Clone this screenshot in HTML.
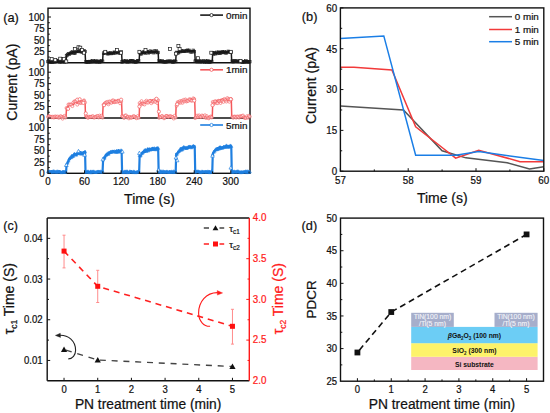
<!DOCTYPE html>
<html><head><meta charset="utf-8"><style>
html,body{margin:0;padding:0;background:#fff;}
body{width:550px;height:413px;overflow:hidden;}
svg{display:block;font-family:"Liberation Sans", sans-serif;}
</style></head><body>
<svg width="550" height="413" viewBox="0 0 550 413">
<rect width="550" height="413" fill="#fff"/>
<rect x="48.0" y="8.2" width="202.0" height="165.10000000000002" fill="none" stroke="#111" stroke-width="1.4"/>
<line x1="48.0" y1="62.8" x2="250.0" y2="62.8" stroke="#111" stroke-width="1.4"/>
<line x1="48.0" y1="118.0" x2="250.0" y2="118.0" stroke="#111" stroke-width="1.4"/>
<polyline points="48.00,61.58 48.49,61.81 48.97,61.13 49.46,61.92 49.95,61.29 50.44,61.52 50.92,61.94 51.41,61.32 51.90,61.97 52.39,61.43 52.87,61.93 53.36,61.90 53.85,61.44 54.34,60.89 54.82,61.85 55.31,61.71 55.80,61.16 56.29,60.72 56.77,61.23 57.26,61.48 57.75,60.68 58.24,61.96 58.72,60.84 59.21,61.62 59.70,61.82 60.19,61.86 60.67,61.60 61.16,60.90 61.65,61.77 62.14,61.22 62.62,61.14 63.11,61.51 63.60,61.27 64.09,61.94 64.57,61.94 65.06,61.74 65.55,61.09 66.04,61.43 66.52,55.68 67.01,54.82 67.50,54.80 67.99,54.85 68.47,53.60 68.96,53.57 69.45,54.27 69.93,53.41 70.42,53.33 70.91,52.46 71.40,52.60 71.88,53.34 72.37,51.81 72.86,53.43 73.35,52.71 73.83,51.92 74.32,53.04 74.81,52.28 75.30,53.10 75.78,51.75 76.27,51.49 76.76,51.81 77.25,51.14 77.73,52.21 78.22,51.39 78.71,51.55 79.20,51.53 79.68,51.74 80.17,50.93 80.66,50.68 81.15,51.60 81.63,51.18 82.12,52.37 82.61,51.05 83.10,51.14 83.58,50.42 84.07,50.74 84.56,51.81 85.05,51.58 85.53,61.10 86.02,61.99 86.51,61.39 87.00,61.79 87.48,61.86 87.97,61.94 88.46,60.97 88.94,61.84 89.43,61.68 89.92,61.48 90.41,60.82 90.89,61.91 91.38,61.40 91.87,61.27 92.36,60.81 92.84,60.90 93.33,60.83 93.82,61.64 94.31,61.45 94.79,61.53 95.28,60.81 95.77,60.71 96.26,61.81 96.74,61.78 97.23,61.70 97.72,61.70 98.21,61.36 98.69,61.21 99.18,61.66 99.67,62.02 100.16,61.45 100.64,61.51 101.13,61.24 101.62,60.71 102.11,61.07 102.59,61.31 103.08,53.35 103.57,53.13 104.06,54.28 104.54,52.49 105.03,52.65 105.52,52.38 106.01,52.47 106.49,53.22 106.98,53.15 107.47,53.69 107.96,52.56 108.44,53.67 108.93,53.62 109.42,53.29 109.90,53.35 110.39,52.95 110.88,53.50 111.37,53.57 111.85,53.24 112.34,53.32 112.83,52.76 113.32,53.42 113.80,51.69 114.29,52.20 114.78,53.12 115.27,52.89 115.75,52.69 116.24,52.64 116.73,53.11 117.22,51.64 117.70,51.34 118.19,52.39 118.68,52.34 119.17,53.14 119.65,53.10 120.14,52.60 120.63,52.75 121.12,51.61 121.60,52.95 122.09,61.99 122.58,60.71 123.07,61.30 123.55,61.82 124.04,61.28 124.53,61.98 125.02,61.30 125.50,60.68 125.99,60.84 126.48,61.06 126.97,61.66 127.45,61.52 127.94,61.79 128.43,60.96 128.92,61.29 129.40,60.95 129.89,61.57 130.38,61.71 130.86,60.91 131.35,60.67 131.84,60.85 132.33,60.91 132.81,60.90 133.30,61.00 133.79,61.71 134.28,61.31 134.76,61.53 135.25,61.98 135.74,61.98 136.23,61.64 136.71,61.67 137.20,61.07 137.69,60.71 138.18,61.41 138.66,60.73 139.15,60.66 139.64,52.65 140.13,53.70 140.61,53.86 141.10,53.73 141.59,53.68 142.08,53.57 142.56,52.63 143.05,51.98 143.54,52.02 144.03,52.68 144.51,52.26 145.00,51.90 145.49,53.28 145.98,52.07 146.46,51.51 146.95,51.72 147.44,51.75 147.93,52.25 148.41,52.82 148.90,51.56 149.39,52.44 149.87,51.47 150.36,51.10 150.85,52.23 151.34,52.20 151.82,51.08 152.31,51.51 152.80,52.61 153.29,52.68 153.77,52.61 154.26,51.08 154.75,51.26 155.24,52.58 155.72,51.20 156.21,50.88 156.70,51.52 157.19,52.13 157.67,51.72 158.16,52.55 158.65,62.00 159.14,60.69 159.62,61.13 160.11,61.30 160.60,60.74 161.09,61.43 161.57,60.82 162.06,60.89 162.55,61.73 163.04,61.68 163.52,61.62 164.01,61.69 164.50,61.22 164.99,61.67 165.47,61.45 165.96,61.84 166.45,60.77 166.94,61.54 167.42,61.39 167.91,61.22 168.40,60.78 168.89,61.44 169.37,60.76 169.86,61.33 170.35,61.29 170.83,61.30 171.32,62.00 171.81,61.42 172.30,61.77 172.78,62.02 173.27,60.92 173.76,61.78 174.25,61.37 174.73,61.02 175.22,61.26 175.71,61.57 176.20,52.61 176.68,52.40 177.17,51.81 177.66,53.06 178.15,52.04 178.63,52.56 179.12,52.41 179.61,51.33 180.10,51.78 180.58,51.60 181.07,51.13 181.56,50.76 182.05,51.64 182.53,51.25 183.02,51.41 183.51,51.35 184.00,50.95 184.48,51.39 184.97,51.19 185.46,51.27 185.95,50.30 186.43,50.76 186.92,50.37 187.41,50.22 187.90,51.57 188.38,50.94 188.87,50.15 189.36,50.34 189.85,51.74 190.33,51.75 190.82,51.09 191.31,51.83 191.79,51.47 192.28,51.80 192.77,50.59 193.26,50.35 193.74,50.11 194.23,51.60 194.72,50.46 195.21,61.11 195.69,61.82 196.18,60.81 196.67,60.69 197.16,61.72 197.64,60.71 198.13,61.47 198.62,61.35 199.11,60.66 199.59,60.88 200.08,61.80 200.57,61.43 201.06,61.31 201.54,61.56 202.03,61.75 202.52,61.58 203.01,61.03 203.49,61.99 203.98,61.26 204.47,61.42 204.96,62.00 205.44,61.57 205.93,61.16 206.42,61.32 206.91,61.93 207.39,60.67 207.88,60.94 208.37,60.69 208.86,61.88 209.34,61.66 209.83,61.97 210.32,60.95 210.80,61.65 211.29,61.84 211.78,61.44 212.27,60.77 212.75,52.92 213.24,53.92 213.73,54.01 214.22,52.34 214.70,52.93 215.19,52.57 215.68,53.70 216.17,53.68 216.65,52.33 217.14,52.79 217.63,53.43 218.12,51.62 218.60,52.17 219.09,51.78 219.58,53.18 220.07,51.57 220.55,53.12 221.04,51.48 221.53,52.27 222.02,52.46 222.50,52.00 222.99,51.22 223.48,52.52 223.97,52.77 224.45,51.95 224.94,52.51 225.43,52.75 225.92,52.62 226.40,52.83 226.89,52.51 227.38,52.27 227.87,52.27 228.35,51.34 228.84,52.28 229.33,51.85 229.82,52.48 230.30,52.13 230.79,52.79 231.28,52.31 231.76,62.00 232.25,61.01 232.74,61.26 233.23,61.76 233.71,61.37 234.20,60.74 234.69,61.88 235.18,60.90 235.66,61.43 236.15,61.34 236.64,60.87 237.13,61.48 237.61,61.33 238.10,61.08 238.59,60.67 239.08,61.55 239.56,60.88 240.05,61.05 240.54,61.15 241.03,61.47 241.51,61.54 242.00,61.95 242.49,61.84 242.98,61.92 243.46,61.00 243.95,61.67 244.44,61.80 244.93,61.91 245.41,60.87 245.90,60.83 246.39,61.10 246.88,61.63 247.36,61.69 247.85,61.62 248.34,61.39 248.83,61.80 249.31,61.41 249.80,61.66" fill="none" stroke="#1a1a1a" stroke-width="1.5" stroke-linejoin="round"/>
<rect x="46.70" y="60.28" width="2.6" height="2.6" fill="none" stroke="#1a1a1a" stroke-width="0.6"/>
<rect x="47.67" y="59.83" width="2.6" height="2.6" fill="none" stroke="#1a1a1a" stroke-width="0.6"/>
<rect x="48.65" y="59.99" width="2.6" height="2.6" fill="none" stroke="#1a1a1a" stroke-width="0.6"/>
<rect x="49.62" y="60.64" width="2.6" height="2.6" fill="none" stroke="#1a1a1a" stroke-width="0.6"/>
<rect x="50.60" y="60.67" width="2.6" height="2.6" fill="none" stroke="#1a1a1a" stroke-width="0.6"/>
<rect x="51.57" y="60.63" width="2.6" height="2.6" fill="none" stroke="#1a1a1a" stroke-width="0.6"/>
<rect x="52.55" y="60.14" width="2.6" height="2.6" fill="none" stroke="#1a1a1a" stroke-width="0.6"/>
<rect x="53.52" y="60.55" width="2.6" height="2.6" fill="none" stroke="#1a1a1a" stroke-width="0.6"/>
<rect x="54.50" y="59.86" width="2.6" height="2.6" fill="none" stroke="#1a1a1a" stroke-width="0.6"/>
<rect x="55.47" y="59.93" width="2.6" height="2.6" fill="none" stroke="#1a1a1a" stroke-width="0.6"/>
<rect x="56.45" y="59.38" width="2.6" height="2.6" fill="none" stroke="#1a1a1a" stroke-width="0.6"/>
<rect x="57.42" y="59.54" width="2.6" height="2.6" fill="none" stroke="#1a1a1a" stroke-width="0.6"/>
<rect x="58.40" y="60.52" width="2.6" height="2.6" fill="none" stroke="#1a1a1a" stroke-width="0.6"/>
<rect x="59.37" y="60.30" width="2.6" height="2.6" fill="none" stroke="#1a1a1a" stroke-width="0.6"/>
<rect x="60.35" y="60.47" width="2.6" height="2.6" fill="none" stroke="#1a1a1a" stroke-width="0.6"/>
<rect x="61.32" y="59.84" width="2.6" height="2.6" fill="none" stroke="#1a1a1a" stroke-width="0.6"/>
<rect x="62.30" y="59.97" width="2.6" height="2.6" fill="none" stroke="#1a1a1a" stroke-width="0.6"/>
<rect x="63.27" y="60.64" width="2.6" height="2.6" fill="none" stroke="#1a1a1a" stroke-width="0.6"/>
<rect x="64.25" y="59.79" width="2.6" height="2.6" fill="none" stroke="#1a1a1a" stroke-width="0.6"/>
<rect x="65.22" y="54.38" width="2.6" height="2.6" fill="none" stroke="#1a1a1a" stroke-width="0.6"/>
<rect x="66.20" y="53.50" width="2.6" height="2.6" fill="none" stroke="#1a1a1a" stroke-width="0.6"/>
<rect x="67.17" y="52.30" width="2.6" height="2.6" fill="none" stroke="#1a1a1a" stroke-width="0.6"/>
<rect x="68.15" y="52.97" width="2.6" height="2.6" fill="none" stroke="#1a1a1a" stroke-width="0.6"/>
<rect x="69.12" y="52.03" width="2.6" height="2.6" fill="none" stroke="#1a1a1a" stroke-width="0.6"/>
<rect x="70.10" y="51.30" width="2.6" height="2.6" fill="none" stroke="#1a1a1a" stroke-width="0.6"/>
<rect x="71.07" y="50.51" width="2.6" height="2.6" fill="none" stroke="#1a1a1a" stroke-width="0.6"/>
<rect x="72.05" y="51.41" width="2.6" height="2.6" fill="none" stroke="#1a1a1a" stroke-width="0.6"/>
<rect x="73.02" y="51.74" width="2.6" height="2.6" fill="none" stroke="#1a1a1a" stroke-width="0.6"/>
<rect x="74.00" y="51.80" width="2.6" height="2.6" fill="none" stroke="#1a1a1a" stroke-width="0.6"/>
<rect x="74.97" y="50.19" width="2.6" height="2.6" fill="none" stroke="#1a1a1a" stroke-width="0.6"/>
<rect x="75.95" y="49.84" width="2.6" height="2.6" fill="none" stroke="#1a1a1a" stroke-width="0.6"/>
<rect x="76.92" y="50.09" width="2.6" height="2.6" fill="none" stroke="#1a1a1a" stroke-width="0.6"/>
<rect x="77.90" y="50.23" width="2.6" height="2.6" fill="none" stroke="#1a1a1a" stroke-width="0.6"/>
<rect x="78.87" y="49.63" width="2.6" height="2.6" fill="none" stroke="#1a1a1a" stroke-width="0.6"/>
<rect x="79.85" y="50.30" width="2.6" height="2.6" fill="none" stroke="#1a1a1a" stroke-width="0.6"/>
<rect x="80.82" y="51.07" width="2.6" height="2.6" fill="none" stroke="#1a1a1a" stroke-width="0.6"/>
<rect x="81.80" y="49.84" width="2.6" height="2.6" fill="none" stroke="#1a1a1a" stroke-width="0.6"/>
<rect x="82.77" y="49.44" width="2.6" height="2.6" fill="none" stroke="#1a1a1a" stroke-width="0.6"/>
<rect x="83.75" y="50.28" width="2.6" height="2.6" fill="none" stroke="#1a1a1a" stroke-width="0.6"/>
<rect x="84.72" y="60.69" width="2.6" height="2.6" fill="none" stroke="#1a1a1a" stroke-width="0.6"/>
<rect x="85.70" y="60.49" width="2.6" height="2.6" fill="none" stroke="#1a1a1a" stroke-width="0.6"/>
<rect x="86.67" y="60.64" width="2.6" height="2.6" fill="none" stroke="#1a1a1a" stroke-width="0.6"/>
<rect x="87.64" y="60.54" width="2.6" height="2.6" fill="none" stroke="#1a1a1a" stroke-width="0.6"/>
<rect x="88.62" y="60.18" width="2.6" height="2.6" fill="none" stroke="#1a1a1a" stroke-width="0.6"/>
<rect x="89.59" y="60.61" width="2.6" height="2.6" fill="none" stroke="#1a1a1a" stroke-width="0.6"/>
<rect x="90.57" y="59.97" width="2.6" height="2.6" fill="none" stroke="#1a1a1a" stroke-width="0.6"/>
<rect x="91.54" y="59.60" width="2.6" height="2.6" fill="none" stroke="#1a1a1a" stroke-width="0.6"/>
<rect x="92.52" y="60.34" width="2.6" height="2.6" fill="none" stroke="#1a1a1a" stroke-width="0.6"/>
<rect x="93.49" y="60.23" width="2.6" height="2.6" fill="none" stroke="#1a1a1a" stroke-width="0.6"/>
<rect x="94.47" y="59.41" width="2.6" height="2.6" fill="none" stroke="#1a1a1a" stroke-width="0.6"/>
<rect x="95.44" y="60.48" width="2.6" height="2.6" fill="none" stroke="#1a1a1a" stroke-width="0.6"/>
<rect x="96.42" y="60.40" width="2.6" height="2.6" fill="none" stroke="#1a1a1a" stroke-width="0.6"/>
<rect x="97.39" y="59.91" width="2.6" height="2.6" fill="none" stroke="#1a1a1a" stroke-width="0.6"/>
<rect x="98.37" y="60.72" width="2.6" height="2.6" fill="none" stroke="#1a1a1a" stroke-width="0.6"/>
<rect x="99.34" y="60.21" width="2.6" height="2.6" fill="none" stroke="#1a1a1a" stroke-width="0.6"/>
<rect x="100.32" y="59.41" width="2.6" height="2.6" fill="none" stroke="#1a1a1a" stroke-width="0.6"/>
<rect x="101.29" y="60.01" width="2.6" height="2.6" fill="none" stroke="#1a1a1a" stroke-width="0.6"/>
<rect x="102.27" y="51.83" width="2.6" height="2.6" fill="none" stroke="#1a1a1a" stroke-width="0.6"/>
<rect x="103.24" y="51.19" width="2.6" height="2.6" fill="none" stroke="#1a1a1a" stroke-width="0.6"/>
<rect x="104.22" y="51.08" width="2.6" height="2.6" fill="none" stroke="#1a1a1a" stroke-width="0.6"/>
<rect x="105.19" y="51.92" width="2.6" height="2.6" fill="none" stroke="#1a1a1a" stroke-width="0.6"/>
<rect x="106.17" y="52.39" width="2.6" height="2.6" fill="none" stroke="#1a1a1a" stroke-width="0.6"/>
<rect x="107.14" y="52.37" width="2.6" height="2.6" fill="none" stroke="#1a1a1a" stroke-width="0.6"/>
<rect x="108.12" y="51.99" width="2.6" height="2.6" fill="none" stroke="#1a1a1a" stroke-width="0.6"/>
<rect x="109.09" y="51.65" width="2.6" height="2.6" fill="none" stroke="#1a1a1a" stroke-width="0.6"/>
<rect x="110.07" y="52.27" width="2.6" height="2.6" fill="none" stroke="#1a1a1a" stroke-width="0.6"/>
<rect x="111.04" y="52.02" width="2.6" height="2.6" fill="none" stroke="#1a1a1a" stroke-width="0.6"/>
<rect x="112.02" y="52.12" width="2.6" height="2.6" fill="none" stroke="#1a1a1a" stroke-width="0.6"/>
<rect x="112.99" y="50.90" width="2.6" height="2.6" fill="none" stroke="#1a1a1a" stroke-width="0.6"/>
<rect x="113.97" y="51.59" width="2.6" height="2.6" fill="none" stroke="#1a1a1a" stroke-width="0.6"/>
<rect x="114.94" y="51.34" width="2.6" height="2.6" fill="none" stroke="#1a1a1a" stroke-width="0.6"/>
<rect x="115.92" y="50.34" width="2.6" height="2.6" fill="none" stroke="#1a1a1a" stroke-width="0.6"/>
<rect x="116.89" y="51.09" width="2.6" height="2.6" fill="none" stroke="#1a1a1a" stroke-width="0.6"/>
<rect x="117.87" y="51.84" width="2.6" height="2.6" fill="none" stroke="#1a1a1a" stroke-width="0.6"/>
<rect x="118.84" y="51.30" width="2.6" height="2.6" fill="none" stroke="#1a1a1a" stroke-width="0.6"/>
<rect x="119.82" y="50.31" width="2.6" height="2.6" fill="none" stroke="#1a1a1a" stroke-width="0.6"/>
<rect x="120.79" y="60.69" width="2.6" height="2.6" fill="none" stroke="#1a1a1a" stroke-width="0.6"/>
<rect x="121.77" y="60.00" width="2.6" height="2.6" fill="none" stroke="#1a1a1a" stroke-width="0.6"/>
<rect x="122.74" y="59.98" width="2.6" height="2.6" fill="none" stroke="#1a1a1a" stroke-width="0.6"/>
<rect x="123.72" y="60.00" width="2.6" height="2.6" fill="none" stroke="#1a1a1a" stroke-width="0.6"/>
<rect x="124.69" y="59.54" width="2.6" height="2.6" fill="none" stroke="#1a1a1a" stroke-width="0.6"/>
<rect x="125.67" y="60.36" width="2.6" height="2.6" fill="none" stroke="#1a1a1a" stroke-width="0.6"/>
<rect x="126.64" y="60.49" width="2.6" height="2.6" fill="none" stroke="#1a1a1a" stroke-width="0.6"/>
<rect x="127.62" y="59.99" width="2.6" height="2.6" fill="none" stroke="#1a1a1a" stroke-width="0.6"/>
<rect x="128.59" y="60.27" width="2.6" height="2.6" fill="none" stroke="#1a1a1a" stroke-width="0.6"/>
<rect x="129.56" y="59.61" width="2.6" height="2.6" fill="none" stroke="#1a1a1a" stroke-width="0.6"/>
<rect x="130.54" y="59.55" width="2.6" height="2.6" fill="none" stroke="#1a1a1a" stroke-width="0.6"/>
<rect x="131.51" y="59.60" width="2.6" height="2.6" fill="none" stroke="#1a1a1a" stroke-width="0.6"/>
<rect x="132.49" y="60.41" width="2.6" height="2.6" fill="none" stroke="#1a1a1a" stroke-width="0.6"/>
<rect x="133.46" y="60.23" width="2.6" height="2.6" fill="none" stroke="#1a1a1a" stroke-width="0.6"/>
<rect x="134.44" y="60.68" width="2.6" height="2.6" fill="none" stroke="#1a1a1a" stroke-width="0.6"/>
<rect x="135.41" y="60.37" width="2.6" height="2.6" fill="none" stroke="#1a1a1a" stroke-width="0.6"/>
<rect x="136.39" y="59.41" width="2.6" height="2.6" fill="none" stroke="#1a1a1a" stroke-width="0.6"/>
<rect x="137.36" y="59.43" width="2.6" height="2.6" fill="none" stroke="#1a1a1a" stroke-width="0.6"/>
<rect x="138.34" y="51.35" width="2.6" height="2.6" fill="none" stroke="#1a1a1a" stroke-width="0.6"/>
<rect x="139.31" y="52.56" width="2.6" height="2.6" fill="none" stroke="#1a1a1a" stroke-width="0.6"/>
<rect x="140.29" y="52.38" width="2.6" height="2.6" fill="none" stroke="#1a1a1a" stroke-width="0.6"/>
<rect x="141.26" y="51.33" width="2.6" height="2.6" fill="none" stroke="#1a1a1a" stroke-width="0.6"/>
<rect x="142.24" y="50.72" width="2.6" height="2.6" fill="none" stroke="#1a1a1a" stroke-width="0.6"/>
<rect x="143.21" y="50.96" width="2.6" height="2.6" fill="none" stroke="#1a1a1a" stroke-width="0.6"/>
<rect x="144.19" y="51.98" width="2.6" height="2.6" fill="none" stroke="#1a1a1a" stroke-width="0.6"/>
<rect x="145.16" y="50.21" width="2.6" height="2.6" fill="none" stroke="#1a1a1a" stroke-width="0.6"/>
<rect x="146.14" y="50.45" width="2.6" height="2.6" fill="none" stroke="#1a1a1a" stroke-width="0.6"/>
<rect x="147.11" y="51.52" width="2.6" height="2.6" fill="none" stroke="#1a1a1a" stroke-width="0.6"/>
<rect x="148.09" y="51.14" width="2.6" height="2.6" fill="none" stroke="#1a1a1a" stroke-width="0.6"/>
<rect x="149.06" y="49.80" width="2.6" height="2.6" fill="none" stroke="#1a1a1a" stroke-width="0.6"/>
<rect x="150.04" y="50.90" width="2.6" height="2.6" fill="none" stroke="#1a1a1a" stroke-width="0.6"/>
<rect x="151.01" y="50.21" width="2.6" height="2.6" fill="none" stroke="#1a1a1a" stroke-width="0.6"/>
<rect x="151.99" y="51.38" width="2.6" height="2.6" fill="none" stroke="#1a1a1a" stroke-width="0.6"/>
<rect x="152.96" y="49.78" width="2.6" height="2.6" fill="none" stroke="#1a1a1a" stroke-width="0.6"/>
<rect x="153.94" y="51.28" width="2.6" height="2.6" fill="none" stroke="#1a1a1a" stroke-width="0.6"/>
<rect x="154.91" y="49.58" width="2.6" height="2.6" fill="none" stroke="#1a1a1a" stroke-width="0.6"/>
<rect x="155.89" y="50.83" width="2.6" height="2.6" fill="none" stroke="#1a1a1a" stroke-width="0.6"/>
<rect x="156.86" y="51.25" width="2.6" height="2.6" fill="none" stroke="#1a1a1a" stroke-width="0.6"/>
<rect x="157.84" y="59.39" width="2.6" height="2.6" fill="none" stroke="#1a1a1a" stroke-width="0.6"/>
<rect x="158.81" y="60.00" width="2.6" height="2.6" fill="none" stroke="#1a1a1a" stroke-width="0.6"/>
<rect x="159.79" y="60.13" width="2.6" height="2.6" fill="none" stroke="#1a1a1a" stroke-width="0.6"/>
<rect x="160.76" y="59.59" width="2.6" height="2.6" fill="none" stroke="#1a1a1a" stroke-width="0.6"/>
<rect x="161.74" y="60.38" width="2.6" height="2.6" fill="none" stroke="#1a1a1a" stroke-width="0.6"/>
<rect x="162.71" y="60.39" width="2.6" height="2.6" fill="none" stroke="#1a1a1a" stroke-width="0.6"/>
<rect x="163.69" y="60.37" width="2.6" height="2.6" fill="none" stroke="#1a1a1a" stroke-width="0.6"/>
<rect x="164.66" y="60.54" width="2.6" height="2.6" fill="none" stroke="#1a1a1a" stroke-width="0.6"/>
<rect x="165.64" y="60.24" width="2.6" height="2.6" fill="none" stroke="#1a1a1a" stroke-width="0.6"/>
<rect x="166.61" y="59.92" width="2.6" height="2.6" fill="none" stroke="#1a1a1a" stroke-width="0.6"/>
<rect x="167.59" y="60.14" width="2.6" height="2.6" fill="none" stroke="#1a1a1a" stroke-width="0.6"/>
<rect x="168.56" y="60.03" width="2.6" height="2.6" fill="none" stroke="#1a1a1a" stroke-width="0.6"/>
<rect x="169.53" y="60.00" width="2.6" height="2.6" fill="none" stroke="#1a1a1a" stroke-width="0.6"/>
<rect x="170.51" y="60.12" width="2.6" height="2.6" fill="none" stroke="#1a1a1a" stroke-width="0.6"/>
<rect x="171.48" y="60.72" width="2.6" height="2.6" fill="none" stroke="#1a1a1a" stroke-width="0.6"/>
<rect x="172.46" y="60.48" width="2.6" height="2.6" fill="none" stroke="#1a1a1a" stroke-width="0.6"/>
<rect x="173.43" y="59.72" width="2.6" height="2.6" fill="none" stroke="#1a1a1a" stroke-width="0.6"/>
<rect x="174.41" y="60.27" width="2.6" height="2.6" fill="none" stroke="#1a1a1a" stroke-width="0.6"/>
<rect x="175.38" y="51.10" width="2.6" height="2.6" fill="none" stroke="#1a1a1a" stroke-width="0.6"/>
<rect x="176.36" y="51.76" width="2.6" height="2.6" fill="none" stroke="#1a1a1a" stroke-width="0.6"/>
<rect x="177.33" y="51.26" width="2.6" height="2.6" fill="none" stroke="#1a1a1a" stroke-width="0.6"/>
<rect x="178.31" y="50.03" width="2.6" height="2.6" fill="none" stroke="#1a1a1a" stroke-width="0.6"/>
<rect x="179.28" y="50.30" width="2.6" height="2.6" fill="none" stroke="#1a1a1a" stroke-width="0.6"/>
<rect x="180.26" y="49.46" width="2.6" height="2.6" fill="none" stroke="#1a1a1a" stroke-width="0.6"/>
<rect x="181.23" y="49.95" width="2.6" height="2.6" fill="none" stroke="#1a1a1a" stroke-width="0.6"/>
<rect x="182.21" y="50.05" width="2.6" height="2.6" fill="none" stroke="#1a1a1a" stroke-width="0.6"/>
<rect x="183.18" y="50.09" width="2.6" height="2.6" fill="none" stroke="#1a1a1a" stroke-width="0.6"/>
<rect x="184.16" y="49.97" width="2.6" height="2.6" fill="none" stroke="#1a1a1a" stroke-width="0.6"/>
<rect x="185.13" y="49.46" width="2.6" height="2.6" fill="none" stroke="#1a1a1a" stroke-width="0.6"/>
<rect x="186.11" y="48.92" width="2.6" height="2.6" fill="none" stroke="#1a1a1a" stroke-width="0.6"/>
<rect x="187.08" y="49.64" width="2.6" height="2.6" fill="none" stroke="#1a1a1a" stroke-width="0.6"/>
<rect x="188.06" y="49.04" width="2.6" height="2.6" fill="none" stroke="#1a1a1a" stroke-width="0.6"/>
<rect x="189.03" y="50.45" width="2.6" height="2.6" fill="none" stroke="#1a1a1a" stroke-width="0.6"/>
<rect x="190.01" y="50.53" width="2.6" height="2.6" fill="none" stroke="#1a1a1a" stroke-width="0.6"/>
<rect x="190.98" y="50.50" width="2.6" height="2.6" fill="none" stroke="#1a1a1a" stroke-width="0.6"/>
<rect x="191.96" y="49.05" width="2.6" height="2.6" fill="none" stroke="#1a1a1a" stroke-width="0.6"/>
<rect x="192.93" y="50.30" width="2.6" height="2.6" fill="none" stroke="#1a1a1a" stroke-width="0.6"/>
<rect x="193.91" y="59.81" width="2.6" height="2.6" fill="none" stroke="#1a1a1a" stroke-width="0.6"/>
<rect x="194.88" y="59.51" width="2.6" height="2.6" fill="none" stroke="#1a1a1a" stroke-width="0.6"/>
<rect x="195.86" y="60.42" width="2.6" height="2.6" fill="none" stroke="#1a1a1a" stroke-width="0.6"/>
<rect x="196.83" y="60.17" width="2.6" height="2.6" fill="none" stroke="#1a1a1a" stroke-width="0.6"/>
<rect x="197.81" y="59.36" width="2.6" height="2.6" fill="none" stroke="#1a1a1a" stroke-width="0.6"/>
<rect x="198.78" y="60.50" width="2.6" height="2.6" fill="none" stroke="#1a1a1a" stroke-width="0.6"/>
<rect x="199.76" y="60.01" width="2.6" height="2.6" fill="none" stroke="#1a1a1a" stroke-width="0.6"/>
<rect x="200.73" y="60.45" width="2.6" height="2.6" fill="none" stroke="#1a1a1a" stroke-width="0.6"/>
<rect x="201.71" y="59.73" width="2.6" height="2.6" fill="none" stroke="#1a1a1a" stroke-width="0.6"/>
<rect x="202.68" y="59.96" width="2.6" height="2.6" fill="none" stroke="#1a1a1a" stroke-width="0.6"/>
<rect x="203.66" y="60.70" width="2.6" height="2.6" fill="none" stroke="#1a1a1a" stroke-width="0.6"/>
<rect x="204.63" y="59.86" width="2.6" height="2.6" fill="none" stroke="#1a1a1a" stroke-width="0.6"/>
<rect x="205.61" y="60.63" width="2.6" height="2.6" fill="none" stroke="#1a1a1a" stroke-width="0.6"/>
<rect x="206.58" y="59.64" width="2.6" height="2.6" fill="none" stroke="#1a1a1a" stroke-width="0.6"/>
<rect x="207.56" y="60.58" width="2.6" height="2.6" fill="none" stroke="#1a1a1a" stroke-width="0.6"/>
<rect x="208.53" y="60.67" width="2.6" height="2.6" fill="none" stroke="#1a1a1a" stroke-width="0.6"/>
<rect x="209.50" y="60.35" width="2.6" height="2.6" fill="none" stroke="#1a1a1a" stroke-width="0.6"/>
<rect x="210.48" y="60.14" width="2.6" height="2.6" fill="none" stroke="#1a1a1a" stroke-width="0.6"/>
<rect x="211.45" y="51.62" width="2.6" height="2.6" fill="none" stroke="#1a1a1a" stroke-width="0.6"/>
<rect x="212.43" y="52.71" width="2.6" height="2.6" fill="none" stroke="#1a1a1a" stroke-width="0.6"/>
<rect x="213.40" y="51.63" width="2.6" height="2.6" fill="none" stroke="#1a1a1a" stroke-width="0.6"/>
<rect x="214.38" y="52.40" width="2.6" height="2.6" fill="none" stroke="#1a1a1a" stroke-width="0.6"/>
<rect x="215.35" y="51.03" width="2.6" height="2.6" fill="none" stroke="#1a1a1a" stroke-width="0.6"/>
<rect x="216.33" y="52.13" width="2.6" height="2.6" fill="none" stroke="#1a1a1a" stroke-width="0.6"/>
<rect x="217.30" y="50.87" width="2.6" height="2.6" fill="none" stroke="#1a1a1a" stroke-width="0.6"/>
<rect x="218.28" y="51.88" width="2.6" height="2.6" fill="none" stroke="#1a1a1a" stroke-width="0.6"/>
<rect x="219.25" y="51.82" width="2.6" height="2.6" fill="none" stroke="#1a1a1a" stroke-width="0.6"/>
<rect x="220.23" y="50.97" width="2.6" height="2.6" fill="none" stroke="#1a1a1a" stroke-width="0.6"/>
<rect x="221.20" y="50.70" width="2.6" height="2.6" fill="none" stroke="#1a1a1a" stroke-width="0.6"/>
<rect x="222.18" y="51.22" width="2.6" height="2.6" fill="none" stroke="#1a1a1a" stroke-width="0.6"/>
<rect x="223.15" y="50.65" width="2.6" height="2.6" fill="none" stroke="#1a1a1a" stroke-width="0.6"/>
<rect x="224.13" y="51.45" width="2.6" height="2.6" fill="none" stroke="#1a1a1a" stroke-width="0.6"/>
<rect x="225.10" y="51.53" width="2.6" height="2.6" fill="none" stroke="#1a1a1a" stroke-width="0.6"/>
<rect x="226.08" y="50.97" width="2.6" height="2.6" fill="none" stroke="#1a1a1a" stroke-width="0.6"/>
<rect x="227.05" y="50.04" width="2.6" height="2.6" fill="none" stroke="#1a1a1a" stroke-width="0.6"/>
<rect x="228.03" y="50.55" width="2.6" height="2.6" fill="none" stroke="#1a1a1a" stroke-width="0.6"/>
<rect x="229.00" y="50.83" width="2.6" height="2.6" fill="none" stroke="#1a1a1a" stroke-width="0.6"/>
<rect x="229.98" y="51.01" width="2.6" height="2.6" fill="none" stroke="#1a1a1a" stroke-width="0.6"/>
<rect x="230.95" y="59.71" width="2.6" height="2.6" fill="none" stroke="#1a1a1a" stroke-width="0.6"/>
<rect x="231.93" y="60.46" width="2.6" height="2.6" fill="none" stroke="#1a1a1a" stroke-width="0.6"/>
<rect x="232.90" y="59.44" width="2.6" height="2.6" fill="none" stroke="#1a1a1a" stroke-width="0.6"/>
<rect x="233.88" y="59.60" width="2.6" height="2.6" fill="none" stroke="#1a1a1a" stroke-width="0.6"/>
<rect x="234.85" y="60.04" width="2.6" height="2.6" fill="none" stroke="#1a1a1a" stroke-width="0.6"/>
<rect x="235.83" y="60.18" width="2.6" height="2.6" fill="none" stroke="#1a1a1a" stroke-width="0.6"/>
<rect x="236.80" y="59.78" width="2.6" height="2.6" fill="none" stroke="#1a1a1a" stroke-width="0.6"/>
<rect x="237.78" y="60.25" width="2.6" height="2.6" fill="none" stroke="#1a1a1a" stroke-width="0.6"/>
<rect x="238.75" y="59.75" width="2.6" height="2.6" fill="none" stroke="#1a1a1a" stroke-width="0.6"/>
<rect x="239.73" y="60.17" width="2.6" height="2.6" fill="none" stroke="#1a1a1a" stroke-width="0.6"/>
<rect x="240.70" y="60.65" width="2.6" height="2.6" fill="none" stroke="#1a1a1a" stroke-width="0.6"/>
<rect x="241.68" y="60.62" width="2.6" height="2.6" fill="none" stroke="#1a1a1a" stroke-width="0.6"/>
<rect x="242.65" y="60.37" width="2.6" height="2.6" fill="none" stroke="#1a1a1a" stroke-width="0.6"/>
<rect x="243.63" y="60.61" width="2.6" height="2.6" fill="none" stroke="#1a1a1a" stroke-width="0.6"/>
<rect x="244.60" y="59.53" width="2.6" height="2.6" fill="none" stroke="#1a1a1a" stroke-width="0.6"/>
<rect x="245.58" y="60.33" width="2.6" height="2.6" fill="none" stroke="#1a1a1a" stroke-width="0.6"/>
<rect x="246.55" y="60.32" width="2.6" height="2.6" fill="none" stroke="#1a1a1a" stroke-width="0.6"/>
<rect x="247.53" y="60.50" width="2.6" height="2.6" fill="none" stroke="#1a1a1a" stroke-width="0.6"/>
<rect x="248.50" y="60.36" width="2.6" height="2.6" fill="none" stroke="#1a1a1a" stroke-width="0.6"/>
<rect x="50.16" y="57.64" width="3" height="3" fill="#fff" stroke="#1a1a1a" stroke-width="0.7"/>
<rect x="53.81" y="58.55" width="3" height="3" fill="#fff" stroke="#1a1a1a" stroke-width="0.7"/>
<rect x="58.69" y="57.18" width="3" height="3" fill="#fff" stroke="#1a1a1a" stroke-width="0.7"/>
<rect x="62.34" y="57.64" width="3" height="3" fill="#fff" stroke="#1a1a1a" stroke-width="0.7"/>
<rect x="64.78" y="59.93" width="3" height="3" fill="#fff" stroke="#1a1a1a" stroke-width="0.7"/>
<rect x="73.31" y="47.56" width="3" height="3" fill="#fff" stroke="#1a1a1a" stroke-width="0.7"/>
<rect x="76.97" y="45.73" width="3" height="3" fill="#fff" stroke="#1a1a1a" stroke-width="0.7"/>
<rect x="78.79" y="46.19" width="3" height="3" fill="#fff" stroke="#1a1a1a" stroke-width="0.7"/>
<rect x="80.62" y="48.48" width="3" height="3" fill="#fff" stroke="#1a1a1a" stroke-width="0.7"/>
<rect x="82.45" y="51.22" width="3" height="3" fill="#fff" stroke="#1a1a1a" stroke-width="0.7"/>
<rect x="103.77" y="50.31" width="3" height="3" fill="#fff" stroke="#1a1a1a" stroke-width="0.7"/>
<rect x="115.35" y="48.48" width="3" height="3" fill="#fff" stroke="#1a1a1a" stroke-width="0.7"/>
<rect x="119.62" y="51.22" width="3" height="3" fill="#fff" stroke="#1a1a1a" stroke-width="0.7"/>
<rect x="137.89" y="50.31" width="3" height="3" fill="#fff" stroke="#1a1a1a" stroke-width="0.7"/>
<rect x="143.99" y="48.48" width="3" height="3" fill="#fff" stroke="#1a1a1a" stroke-width="0.7"/>
<rect x="168.36" y="47.56" width="3" height="3" fill="#fff" stroke="#1a1a1a" stroke-width="0.7"/>
<rect x="174.45" y="52.14" width="3" height="3" fill="#fff" stroke="#1a1a1a" stroke-width="0.7"/>
<rect x="176.89" y="44.35" width="3" height="3" fill="#fff" stroke="#1a1a1a" stroke-width="0.7"/>
<rect x="178.11" y="47.56" width="3" height="3" fill="#fff" stroke="#1a1a1a" stroke-width="0.7"/>
<rect x="196.39" y="56.72" width="3" height="3" fill="#fff" stroke="#1a1a1a" stroke-width="0.7"/>
<rect x="209.79" y="51.22" width="3" height="3" fill="#fff" stroke="#1a1a1a" stroke-width="0.7"/>
<rect x="229.29" y="50.31" width="3" height="3" fill="#fff" stroke="#1a1a1a" stroke-width="0.7"/>
<rect x="239.04" y="59.47" width="3" height="3" fill="#fff" stroke="#1a1a1a" stroke-width="0.7"/>
<polyline points="48.00,116.36 48.49,116.34 48.97,116.93 49.46,117.34 49.95,116.35 50.44,117.25 50.92,117.19 51.41,117.68 51.90,117.16 52.39,117.03 52.87,116.99 53.36,117.40 53.85,116.99 54.34,117.67 54.82,117.32 55.31,117.56 55.80,117.13 56.29,117.62 56.77,117.65 57.26,117.26 57.75,117.36 58.24,116.87 58.72,116.95 59.21,116.65 59.70,116.78 60.19,116.70 60.67,116.47 61.16,117.14 61.65,117.23 62.14,116.33 62.62,117.47 63.11,116.68 63.60,116.80 64.09,117.62 64.57,116.53 65.06,116.45 65.55,116.82 66.04,116.67 66.52,107.61 67.01,109.00 67.50,107.33 67.99,106.88 68.47,105.45 68.96,105.11 69.45,104.64 69.93,104.98 70.42,103.74 70.91,104.04 71.40,103.71 71.88,104.80 72.37,105.13 72.86,104.60 73.35,103.72 73.83,104.27 74.32,101.95 74.81,102.59 75.30,102.23 75.78,102.09 76.27,101.79 76.76,102.23 77.25,103.54 77.73,101.10 78.22,101.15 78.71,101.78 79.20,101.60 79.68,101.15 80.17,102.82 80.66,100.79 81.15,102.15 81.63,102.61 82.12,102.00 82.61,100.59 83.10,102.08 83.58,100.47 84.07,99.74 84.56,101.11 85.05,101.41 85.53,117.02 86.02,116.74 86.51,116.63 87.00,116.83 87.48,116.80 87.97,117.57 88.46,117.48 88.94,117.33 89.43,116.66 89.92,117.26 90.41,116.90 90.89,117.66 91.38,117.60 91.87,117.31 92.36,116.76 92.84,116.73 93.33,116.75 93.82,117.28 94.31,116.97 94.79,117.04 95.28,117.04 95.77,117.52 96.26,116.45 96.74,117.41 97.23,116.34 97.72,116.39 98.21,117.66 98.69,117.05 99.18,116.55 99.67,116.35 100.16,117.06 100.64,117.31 101.13,117.39 101.62,116.38 102.11,117.39 102.59,116.88 103.08,106.06 103.57,104.63 104.06,103.09 104.54,105.22 105.03,102.96 105.52,103.65 106.01,102.33 106.49,102.67 106.98,103.87 107.47,101.75 107.96,102.80 108.44,104.01 108.93,103.94 109.42,102.39 109.90,102.39 110.39,102.73 110.88,103.10 111.37,102.41 111.85,102.41 112.34,100.80 112.83,103.19 113.32,100.92 113.80,100.60 114.29,102.66 114.78,100.24 115.27,100.82 115.75,100.22 116.24,101.97 116.73,101.69 117.22,101.59 117.70,99.79 118.19,100.96 118.68,101.60 119.17,101.37 119.65,101.80 120.14,102.44 120.63,102.26 121.12,100.09 121.60,101.69 122.09,116.39 122.58,117.34 123.07,117.31 123.55,116.98 124.04,117.42 124.53,117.17 125.02,116.37 125.50,116.46 125.99,116.56 126.48,116.81 126.97,116.42 127.45,116.39 127.94,116.92 128.43,116.69 128.92,117.61 129.40,116.67 129.89,117.06 130.38,116.65 130.86,116.79 131.35,117.29 131.84,117.61 132.33,116.41 132.81,117.50 133.30,117.03 133.79,117.21 134.28,117.27 134.76,116.66 135.25,116.34 135.74,117.32 136.23,116.78 136.71,117.27 137.20,116.91 137.69,117.14 138.18,117.45 138.66,117.46 139.15,117.39 139.64,103.36 140.13,104.25 140.61,104.78 141.10,102.50 141.59,101.99 142.08,103.36 142.56,104.06 143.05,103.71 143.54,103.83 144.03,102.92 144.51,103.50 145.00,102.93 145.49,102.74 145.98,101.70 146.46,100.66 146.95,100.95 147.44,101.84 147.93,101.75 148.41,101.34 148.90,101.70 149.39,101.74 149.87,102.48 150.36,101.79 150.85,99.71 151.34,102.13 151.82,100.97 152.31,100.56 152.80,99.83 153.29,101.69 153.77,101.49 154.26,101.53 154.75,101.05 155.24,100.89 155.72,99.37 156.21,99.66 156.70,99.56 157.19,102.04 157.67,101.99 158.16,99.99 158.65,116.45 159.14,117.03 159.62,116.87 160.11,117.68 160.60,117.14 161.09,116.41 161.57,116.55 162.06,116.50 162.55,116.34 163.04,117.34 163.52,117.53 164.01,117.47 164.50,116.96 164.99,116.74 165.47,116.39 165.96,116.69 166.45,116.79 166.94,116.63 167.42,117.05 167.91,116.92 168.40,117.63 168.89,116.60 169.37,117.36 169.86,116.42 170.35,116.79 170.83,117.26 171.32,117.50 171.81,117.33 172.30,116.81 172.78,116.72 173.27,117.53 173.76,117.58 174.25,116.96 174.73,116.88 175.22,117.15 175.71,117.37 176.20,103.78 176.68,105.17 177.17,103.99 177.66,103.23 178.15,101.50 178.63,102.16 179.12,101.23 179.61,102.21 180.10,102.71 180.58,102.49 181.07,100.23 181.56,100.82 182.05,101.84 182.53,102.54 183.02,101.01 183.51,100.38 184.00,101.02 184.48,101.40 184.97,100.10 185.46,99.26 185.95,101.23 186.43,101.72 186.92,100.76 187.41,100.45 187.90,99.63 188.38,100.99 188.87,99.19 189.36,99.31 189.85,99.96 190.33,100.80 190.82,98.52 191.31,100.41 191.79,98.89 192.28,100.59 192.77,100.59 193.26,98.99 193.74,100.33 194.23,98.38 194.72,99.70 195.21,117.42 195.69,117.37 196.18,117.11 196.67,116.77 197.16,116.38 197.64,117.48 198.13,117.14 198.62,117.39 199.11,116.34 199.59,117.48 200.08,117.61 200.57,117.60 201.06,117.14 201.54,116.45 202.03,116.47 202.52,116.67 203.01,116.31 203.49,116.40 203.98,117.23 204.47,117.42 204.96,116.39 205.44,116.65 205.93,117.64 206.42,116.77 206.91,117.16 207.39,117.17 207.88,117.22 208.37,117.45 208.86,117.68 209.34,117.29 209.83,117.20 210.32,116.37 210.80,117.51 211.29,116.35 211.78,117.39 212.27,117.19 212.75,102.25 213.24,101.98 213.73,102.86 214.22,103.75 214.70,102.29 215.19,102.38 215.68,100.59 216.17,102.55 216.65,101.88 217.14,100.17 217.63,102.58 218.12,101.33 218.60,100.04 219.09,100.06 219.58,102.09 220.07,102.01 220.55,101.85 221.04,99.25 221.53,101.12 222.02,99.62 222.50,99.11 222.99,100.69 223.48,100.83 223.97,98.77 224.45,99.72 224.94,100.72 225.43,99.35 225.92,100.48 226.40,100.57 226.89,101.34 227.38,99.10 227.87,98.60 228.35,99.41 228.84,98.48 229.33,101.15 229.82,100.52 230.30,99.79 230.79,98.36 231.28,98.35 231.76,117.15 232.25,117.33 232.74,117.09 233.23,117.00 233.71,116.40 234.20,117.43 234.69,116.58 235.18,116.66 235.66,116.55 236.15,116.62 236.64,116.85 237.13,117.23 237.61,117.24 238.10,117.18 238.59,116.60 239.08,117.57 239.56,117.41 240.05,116.64 240.54,117.34 241.03,117.59 241.51,117.63 242.00,116.92 242.49,117.23 242.98,116.33 243.46,116.47 243.95,116.32 244.44,117.32 244.93,117.56 245.41,117.55 245.90,116.99 246.39,116.70 246.88,117.07 247.36,117.36 247.85,117.11 248.34,116.83 248.83,116.75 249.31,116.65 249.80,116.52" fill="none" stroke="#f4585a" stroke-width="1.5" stroke-linejoin="round"/>
<circle cx="48.00" cy="116.75" r="1.5" fill="#fff" fill-opacity="0.5" stroke="#f4585a" stroke-width="0.6"/>
<circle cx="48.97" cy="116.02" r="1.5" fill="#fff" fill-opacity="0.5" stroke="#f4585a" stroke-width="0.6"/>
<circle cx="49.95" cy="117.17" r="1.5" fill="#fff" fill-opacity="0.5" stroke="#f4585a" stroke-width="0.6"/>
<circle cx="50.92" cy="116.69" r="1.5" fill="#fff" fill-opacity="0.5" stroke="#f4585a" stroke-width="0.6"/>
<circle cx="51.90" cy="117.32" r="1.5" fill="#fff" fill-opacity="0.5" stroke="#f4585a" stroke-width="0.6"/>
<circle cx="52.87" cy="116.68" r="1.5" fill="#fff" fill-opacity="0.5" stroke="#f4585a" stroke-width="0.6"/>
<circle cx="53.85" cy="117.56" r="1.5" fill="#fff" fill-opacity="0.5" stroke="#f4585a" stroke-width="0.6"/>
<circle cx="54.82" cy="116.59" r="1.5" fill="#fff" fill-opacity="0.5" stroke="#f4585a" stroke-width="0.6"/>
<circle cx="55.80" cy="116.52" r="1.5" fill="#fff" fill-opacity="0.5" stroke="#f4585a" stroke-width="0.6"/>
<circle cx="56.77" cy="117.04" r="1.5" fill="#fff" fill-opacity="0.5" stroke="#f4585a" stroke-width="0.6"/>
<circle cx="57.75" cy="116.53" r="1.5" fill="#fff" fill-opacity="0.5" stroke="#f4585a" stroke-width="0.6"/>
<circle cx="58.72" cy="117.87" r="1.5" fill="#fff" fill-opacity="0.5" stroke="#f4585a" stroke-width="0.6"/>
<circle cx="59.70" cy="116.96" r="1.5" fill="#fff" fill-opacity="0.5" stroke="#f4585a" stroke-width="0.6"/>
<circle cx="60.67" cy="116.05" r="1.5" fill="#fff" fill-opacity="0.5" stroke="#f4585a" stroke-width="0.6"/>
<circle cx="61.65" cy="116.98" r="1.5" fill="#fff" fill-opacity="0.5" stroke="#f4585a" stroke-width="0.6"/>
<circle cx="62.62" cy="118.66" r="1.5" fill="#fff" fill-opacity="0.5" stroke="#f4585a" stroke-width="0.6"/>
<circle cx="63.60" cy="116.81" r="1.5" fill="#fff" fill-opacity="0.5" stroke="#f4585a" stroke-width="0.6"/>
<circle cx="64.57" cy="115.89" r="1.5" fill="#fff" fill-opacity="0.5" stroke="#f4585a" stroke-width="0.6"/>
<circle cx="65.55" cy="117.56" r="1.5" fill="#fff" fill-opacity="0.5" stroke="#f4585a" stroke-width="0.6"/>
<circle cx="66.52" cy="107.98" r="1.5" fill="#fff" fill-opacity="0.5" stroke="#f4585a" stroke-width="0.6"/>
<circle cx="67.50" cy="108.51" r="1.5" fill="#fff" fill-opacity="0.5" stroke="#f4585a" stroke-width="0.6"/>
<circle cx="68.47" cy="104.49" r="1.5" fill="#fff" fill-opacity="0.5" stroke="#f4585a" stroke-width="0.6"/>
<circle cx="69.45" cy="104.58" r="1.5" fill="#fff" fill-opacity="0.5" stroke="#f4585a" stroke-width="0.6"/>
<circle cx="70.42" cy="104.50" r="1.5" fill="#fff" fill-opacity="0.5" stroke="#f4585a" stroke-width="0.6"/>
<circle cx="71.40" cy="104.53" r="1.5" fill="#fff" fill-opacity="0.5" stroke="#f4585a" stroke-width="0.6"/>
<circle cx="72.37" cy="106.13" r="1.5" fill="#fff" fill-opacity="0.5" stroke="#f4585a" stroke-width="0.6"/>
<circle cx="73.35" cy="102.62" r="1.5" fill="#fff" fill-opacity="0.5" stroke="#f4585a" stroke-width="0.6"/>
<circle cx="74.32" cy="101.45" r="1.5" fill="#fff" fill-opacity="0.5" stroke="#f4585a" stroke-width="0.6"/>
<circle cx="75.30" cy="101.31" r="1.5" fill="#fff" fill-opacity="0.5" stroke="#f4585a" stroke-width="0.6"/>
<circle cx="76.27" cy="101.05" r="1.5" fill="#fff" fill-opacity="0.5" stroke="#f4585a" stroke-width="0.6"/>
<circle cx="77.25" cy="104.67" r="1.5" fill="#fff" fill-opacity="0.5" stroke="#f4585a" stroke-width="0.6"/>
<circle cx="78.22" cy="101.35" r="1.5" fill="#fff" fill-opacity="0.5" stroke="#f4585a" stroke-width="0.6"/>
<circle cx="79.20" cy="102.63" r="1.5" fill="#fff" fill-opacity="0.5" stroke="#f4585a" stroke-width="0.6"/>
<circle cx="80.17" cy="102.51" r="1.5" fill="#fff" fill-opacity="0.5" stroke="#f4585a" stroke-width="0.6"/>
<circle cx="81.15" cy="103.02" r="1.5" fill="#fff" fill-opacity="0.5" stroke="#f4585a" stroke-width="0.6"/>
<circle cx="82.12" cy="101.87" r="1.5" fill="#fff" fill-opacity="0.5" stroke="#f4585a" stroke-width="0.6"/>
<circle cx="83.10" cy="101.50" r="1.5" fill="#fff" fill-opacity="0.5" stroke="#f4585a" stroke-width="0.6"/>
<circle cx="84.07" cy="100.40" r="1.5" fill="#fff" fill-opacity="0.5" stroke="#f4585a" stroke-width="0.6"/>
<circle cx="85.05" cy="102.48" r="1.5" fill="#fff" fill-opacity="0.5" stroke="#f4585a" stroke-width="0.6"/>
<circle cx="86.02" cy="115.79" r="1.5" fill="#fff" fill-opacity="0.5" stroke="#f4585a" stroke-width="0.6"/>
<circle cx="87.00" cy="117.06" r="1.5" fill="#fff" fill-opacity="0.5" stroke="#f4585a" stroke-width="0.6"/>
<circle cx="87.97" cy="117.86" r="1.5" fill="#fff" fill-opacity="0.5" stroke="#f4585a" stroke-width="0.6"/>
<circle cx="88.94" cy="116.65" r="1.5" fill="#fff" fill-opacity="0.5" stroke="#f4585a" stroke-width="0.6"/>
<circle cx="89.92" cy="116.95" r="1.5" fill="#fff" fill-opacity="0.5" stroke="#f4585a" stroke-width="0.6"/>
<circle cx="90.89" cy="116.80" r="1.5" fill="#fff" fill-opacity="0.5" stroke="#f4585a" stroke-width="0.6"/>
<circle cx="91.87" cy="116.60" r="1.5" fill="#fff" fill-opacity="0.5" stroke="#f4585a" stroke-width="0.6"/>
<circle cx="92.84" cy="116.14" r="1.5" fill="#fff" fill-opacity="0.5" stroke="#f4585a" stroke-width="0.6"/>
<circle cx="93.82" cy="117.52" r="1.5" fill="#fff" fill-opacity="0.5" stroke="#f4585a" stroke-width="0.6"/>
<circle cx="94.79" cy="117.40" r="1.5" fill="#fff" fill-opacity="0.5" stroke="#f4585a" stroke-width="0.6"/>
<circle cx="95.77" cy="116.80" r="1.5" fill="#fff" fill-opacity="0.5" stroke="#f4585a" stroke-width="0.6"/>
<circle cx="96.74" cy="116.23" r="1.5" fill="#fff" fill-opacity="0.5" stroke="#f4585a" stroke-width="0.6"/>
<circle cx="97.72" cy="115.98" r="1.5" fill="#fff" fill-opacity="0.5" stroke="#f4585a" stroke-width="0.6"/>
<circle cx="98.69" cy="117.48" r="1.5" fill="#fff" fill-opacity="0.5" stroke="#f4585a" stroke-width="0.6"/>
<circle cx="99.67" cy="115.59" r="1.5" fill="#fff" fill-opacity="0.5" stroke="#f4585a" stroke-width="0.6"/>
<circle cx="100.64" cy="116.86" r="1.5" fill="#fff" fill-opacity="0.5" stroke="#f4585a" stroke-width="0.6"/>
<circle cx="101.62" cy="115.67" r="1.5" fill="#fff" fill-opacity="0.5" stroke="#f4585a" stroke-width="0.6"/>
<circle cx="102.59" cy="117.59" r="1.5" fill="#fff" fill-opacity="0.5" stroke="#f4585a" stroke-width="0.6"/>
<circle cx="103.57" cy="104.75" r="1.5" fill="#fff" fill-opacity="0.5" stroke="#f4585a" stroke-width="0.6"/>
<circle cx="104.54" cy="104.18" r="1.5" fill="#fff" fill-opacity="0.5" stroke="#f4585a" stroke-width="0.6"/>
<circle cx="105.52" cy="102.69" r="1.5" fill="#fff" fill-opacity="0.5" stroke="#f4585a" stroke-width="0.6"/>
<circle cx="106.49" cy="102.42" r="1.5" fill="#fff" fill-opacity="0.5" stroke="#f4585a" stroke-width="0.6"/>
<circle cx="107.47" cy="101.87" r="1.5" fill="#fff" fill-opacity="0.5" stroke="#f4585a" stroke-width="0.6"/>
<circle cx="108.44" cy="104.35" r="1.5" fill="#fff" fill-opacity="0.5" stroke="#f4585a" stroke-width="0.6"/>
<circle cx="109.42" cy="101.41" r="1.5" fill="#fff" fill-opacity="0.5" stroke="#f4585a" stroke-width="0.6"/>
<circle cx="110.39" cy="101.92" r="1.5" fill="#fff" fill-opacity="0.5" stroke="#f4585a" stroke-width="0.6"/>
<circle cx="111.37" cy="102.88" r="1.5" fill="#fff" fill-opacity="0.5" stroke="#f4585a" stroke-width="0.6"/>
<circle cx="112.34" cy="100.58" r="1.5" fill="#fff" fill-opacity="0.5" stroke="#f4585a" stroke-width="0.6"/>
<circle cx="113.32" cy="100.40" r="1.5" fill="#fff" fill-opacity="0.5" stroke="#f4585a" stroke-width="0.6"/>
<circle cx="114.29" cy="102.19" r="1.5" fill="#fff" fill-opacity="0.5" stroke="#f4585a" stroke-width="0.6"/>
<circle cx="115.27" cy="101.90" r="1.5" fill="#fff" fill-opacity="0.5" stroke="#f4585a" stroke-width="0.6"/>
<circle cx="116.24" cy="101.52" r="1.5" fill="#fff" fill-opacity="0.5" stroke="#f4585a" stroke-width="0.6"/>
<circle cx="117.22" cy="101.75" r="1.5" fill="#fff" fill-opacity="0.5" stroke="#f4585a" stroke-width="0.6"/>
<circle cx="118.19" cy="100.61" r="1.5" fill="#fff" fill-opacity="0.5" stroke="#f4585a" stroke-width="0.6"/>
<circle cx="119.17" cy="101.17" r="1.5" fill="#fff" fill-opacity="0.5" stroke="#f4585a" stroke-width="0.6"/>
<circle cx="120.14" cy="103.31" r="1.5" fill="#fff" fill-opacity="0.5" stroke="#f4585a" stroke-width="0.6"/>
<circle cx="121.12" cy="101.29" r="1.5" fill="#fff" fill-opacity="0.5" stroke="#f4585a" stroke-width="0.6"/>
<circle cx="122.09" cy="116.07" r="1.5" fill="#fff" fill-opacity="0.5" stroke="#f4585a" stroke-width="0.6"/>
<circle cx="123.07" cy="116.59" r="1.5" fill="#fff" fill-opacity="0.5" stroke="#f4585a" stroke-width="0.6"/>
<circle cx="124.04" cy="117.97" r="1.5" fill="#fff" fill-opacity="0.5" stroke="#f4585a" stroke-width="0.6"/>
<circle cx="125.02" cy="115.65" r="1.5" fill="#fff" fill-opacity="0.5" stroke="#f4585a" stroke-width="0.6"/>
<circle cx="125.99" cy="115.38" r="1.5" fill="#fff" fill-opacity="0.5" stroke="#f4585a" stroke-width="0.6"/>
<circle cx="126.97" cy="117.39" r="1.5" fill="#fff" fill-opacity="0.5" stroke="#f4585a" stroke-width="0.6"/>
<circle cx="127.94" cy="116.74" r="1.5" fill="#fff" fill-opacity="0.5" stroke="#f4585a" stroke-width="0.6"/>
<circle cx="128.92" cy="118.38" r="1.5" fill="#fff" fill-opacity="0.5" stroke="#f4585a" stroke-width="0.6"/>
<circle cx="129.89" cy="116.83" r="1.5" fill="#fff" fill-opacity="0.5" stroke="#f4585a" stroke-width="0.6"/>
<circle cx="130.86" cy="117.71" r="1.5" fill="#fff" fill-opacity="0.5" stroke="#f4585a" stroke-width="0.6"/>
<circle cx="131.84" cy="117.52" r="1.5" fill="#fff" fill-opacity="0.5" stroke="#f4585a" stroke-width="0.6"/>
<circle cx="132.81" cy="116.69" r="1.5" fill="#fff" fill-opacity="0.5" stroke="#f4585a" stroke-width="0.6"/>
<circle cx="133.79" cy="116.04" r="1.5" fill="#fff" fill-opacity="0.5" stroke="#f4585a" stroke-width="0.6"/>
<circle cx="134.76" cy="116.79" r="1.5" fill="#fff" fill-opacity="0.5" stroke="#f4585a" stroke-width="0.6"/>
<circle cx="135.74" cy="117.66" r="1.5" fill="#fff" fill-opacity="0.5" stroke="#f4585a" stroke-width="0.6"/>
<circle cx="136.71" cy="118.25" r="1.5" fill="#fff" fill-opacity="0.5" stroke="#f4585a" stroke-width="0.6"/>
<circle cx="137.69" cy="116.15" r="1.5" fill="#fff" fill-opacity="0.5" stroke="#f4585a" stroke-width="0.6"/>
<circle cx="138.66" cy="117.75" r="1.5" fill="#fff" fill-opacity="0.5" stroke="#f4585a" stroke-width="0.6"/>
<circle cx="139.64" cy="103.05" r="1.5" fill="#fff" fill-opacity="0.5" stroke="#f4585a" stroke-width="0.6"/>
<circle cx="140.61" cy="104.79" r="1.5" fill="#fff" fill-opacity="0.5" stroke="#f4585a" stroke-width="0.6"/>
<circle cx="141.59" cy="101.14" r="1.5" fill="#fff" fill-opacity="0.5" stroke="#f4585a" stroke-width="0.6"/>
<circle cx="142.56" cy="103.54" r="1.5" fill="#fff" fill-opacity="0.5" stroke="#f4585a" stroke-width="0.6"/>
<circle cx="143.54" cy="103.88" r="1.5" fill="#fff" fill-opacity="0.5" stroke="#f4585a" stroke-width="0.6"/>
<circle cx="144.51" cy="104.52" r="1.5" fill="#fff" fill-opacity="0.5" stroke="#f4585a" stroke-width="0.6"/>
<circle cx="145.49" cy="101.80" r="1.5" fill="#fff" fill-opacity="0.5" stroke="#f4585a" stroke-width="0.6"/>
<circle cx="146.46" cy="100.63" r="1.5" fill="#fff" fill-opacity="0.5" stroke="#f4585a" stroke-width="0.6"/>
<circle cx="147.44" cy="102.58" r="1.5" fill="#fff" fill-opacity="0.5" stroke="#f4585a" stroke-width="0.6"/>
<circle cx="148.41" cy="102.47" r="1.5" fill="#fff" fill-opacity="0.5" stroke="#f4585a" stroke-width="0.6"/>
<circle cx="149.39" cy="101.02" r="1.5" fill="#fff" fill-opacity="0.5" stroke="#f4585a" stroke-width="0.6"/>
<circle cx="150.36" cy="100.90" r="1.5" fill="#fff" fill-opacity="0.5" stroke="#f4585a" stroke-width="0.6"/>
<circle cx="151.34" cy="103.19" r="1.5" fill="#fff" fill-opacity="0.5" stroke="#f4585a" stroke-width="0.6"/>
<circle cx="152.31" cy="101.70" r="1.5" fill="#fff" fill-opacity="0.5" stroke="#f4585a" stroke-width="0.6"/>
<circle cx="153.29" cy="101.65" r="1.5" fill="#fff" fill-opacity="0.5" stroke="#f4585a" stroke-width="0.6"/>
<circle cx="154.26" cy="100.45" r="1.5" fill="#fff" fill-opacity="0.5" stroke="#f4585a" stroke-width="0.6"/>
<circle cx="155.24" cy="101.91" r="1.5" fill="#fff" fill-opacity="0.5" stroke="#f4585a" stroke-width="0.6"/>
<circle cx="156.21" cy="99.39" r="1.5" fill="#fff" fill-opacity="0.5" stroke="#f4585a" stroke-width="0.6"/>
<circle cx="157.19" cy="103.01" r="1.5" fill="#fff" fill-opacity="0.5" stroke="#f4585a" stroke-width="0.6"/>
<circle cx="158.16" cy="100.27" r="1.5" fill="#fff" fill-opacity="0.5" stroke="#f4585a" stroke-width="0.6"/>
<circle cx="159.14" cy="117.81" r="1.5" fill="#fff" fill-opacity="0.5" stroke="#f4585a" stroke-width="0.6"/>
<circle cx="160.11" cy="116.86" r="1.5" fill="#fff" fill-opacity="0.5" stroke="#f4585a" stroke-width="0.6"/>
<circle cx="161.09" cy="117.09" r="1.5" fill="#fff" fill-opacity="0.5" stroke="#f4585a" stroke-width="0.6"/>
<circle cx="162.06" cy="115.84" r="1.5" fill="#fff" fill-opacity="0.5" stroke="#f4585a" stroke-width="0.6"/>
<circle cx="163.04" cy="117.11" r="1.5" fill="#fff" fill-opacity="0.5" stroke="#f4585a" stroke-width="0.6"/>
<circle cx="164.01" cy="118.30" r="1.5" fill="#fff" fill-opacity="0.5" stroke="#f4585a" stroke-width="0.6"/>
<circle cx="164.99" cy="117.53" r="1.5" fill="#fff" fill-opacity="0.5" stroke="#f4585a" stroke-width="0.6"/>
<circle cx="165.96" cy="115.93" r="1.5" fill="#fff" fill-opacity="0.5" stroke="#f4585a" stroke-width="0.6"/>
<circle cx="166.94" cy="115.95" r="1.5" fill="#fff" fill-opacity="0.5" stroke="#f4585a" stroke-width="0.6"/>
<circle cx="167.91" cy="116.68" r="1.5" fill="#fff" fill-opacity="0.5" stroke="#f4585a" stroke-width="0.6"/>
<circle cx="168.89" cy="116.65" r="1.5" fill="#fff" fill-opacity="0.5" stroke="#f4585a" stroke-width="0.6"/>
<circle cx="169.86" cy="116.14" r="1.5" fill="#fff" fill-opacity="0.5" stroke="#f4585a" stroke-width="0.6"/>
<circle cx="170.83" cy="116.36" r="1.5" fill="#fff" fill-opacity="0.5" stroke="#f4585a" stroke-width="0.6"/>
<circle cx="171.81" cy="116.73" r="1.5" fill="#fff" fill-opacity="0.5" stroke="#f4585a" stroke-width="0.6"/>
<circle cx="172.78" cy="117.26" r="1.5" fill="#fff" fill-opacity="0.5" stroke="#f4585a" stroke-width="0.6"/>
<circle cx="173.76" cy="118.54" r="1.5" fill="#fff" fill-opacity="0.5" stroke="#f4585a" stroke-width="0.6"/>
<circle cx="174.73" cy="115.78" r="1.5" fill="#fff" fill-opacity="0.5" stroke="#f4585a" stroke-width="0.6"/>
<circle cx="175.71" cy="117.52" r="1.5" fill="#fff" fill-opacity="0.5" stroke="#f4585a" stroke-width="0.6"/>
<circle cx="176.68" cy="105.78" r="1.5" fill="#fff" fill-opacity="0.5" stroke="#f4585a" stroke-width="0.6"/>
<circle cx="177.66" cy="102.12" r="1.5" fill="#fff" fill-opacity="0.5" stroke="#f4585a" stroke-width="0.6"/>
<circle cx="178.63" cy="102.98" r="1.5" fill="#fff" fill-opacity="0.5" stroke="#f4585a" stroke-width="0.6"/>
<circle cx="179.61" cy="101.29" r="1.5" fill="#fff" fill-opacity="0.5" stroke="#f4585a" stroke-width="0.6"/>
<circle cx="180.58" cy="102.73" r="1.5" fill="#fff" fill-opacity="0.5" stroke="#f4585a" stroke-width="0.6"/>
<circle cx="181.56" cy="100.94" r="1.5" fill="#fff" fill-opacity="0.5" stroke="#f4585a" stroke-width="0.6"/>
<circle cx="182.53" cy="102.84" r="1.5" fill="#fff" fill-opacity="0.5" stroke="#f4585a" stroke-width="0.6"/>
<circle cx="183.51" cy="99.92" r="1.5" fill="#fff" fill-opacity="0.5" stroke="#f4585a" stroke-width="0.6"/>
<circle cx="184.48" cy="101.20" r="1.5" fill="#fff" fill-opacity="0.5" stroke="#f4585a" stroke-width="0.6"/>
<circle cx="185.46" cy="99.46" r="1.5" fill="#fff" fill-opacity="0.5" stroke="#f4585a" stroke-width="0.6"/>
<circle cx="186.43" cy="101.54" r="1.5" fill="#fff" fill-opacity="0.5" stroke="#f4585a" stroke-width="0.6"/>
<circle cx="187.41" cy="100.84" r="1.5" fill="#fff" fill-opacity="0.5" stroke="#f4585a" stroke-width="0.6"/>
<circle cx="188.38" cy="100.87" r="1.5" fill="#fff" fill-opacity="0.5" stroke="#f4585a" stroke-width="0.6"/>
<circle cx="189.36" cy="99.16" r="1.5" fill="#fff" fill-opacity="0.5" stroke="#f4585a" stroke-width="0.6"/>
<circle cx="190.33" cy="99.65" r="1.5" fill="#fff" fill-opacity="0.5" stroke="#f4585a" stroke-width="0.6"/>
<circle cx="191.31" cy="100.70" r="1.5" fill="#fff" fill-opacity="0.5" stroke="#f4585a" stroke-width="0.6"/>
<circle cx="192.28" cy="100.56" r="1.5" fill="#fff" fill-opacity="0.5" stroke="#f4585a" stroke-width="0.6"/>
<circle cx="193.26" cy="98.35" r="1.5" fill="#fff" fill-opacity="0.5" stroke="#f4585a" stroke-width="0.6"/>
<circle cx="194.23" cy="99.01" r="1.5" fill="#fff" fill-opacity="0.5" stroke="#f4585a" stroke-width="0.6"/>
<circle cx="195.21" cy="118.09" r="1.5" fill="#fff" fill-opacity="0.5" stroke="#f4585a" stroke-width="0.6"/>
<circle cx="196.18" cy="117.01" r="1.5" fill="#fff" fill-opacity="0.5" stroke="#f4585a" stroke-width="0.6"/>
<circle cx="197.16" cy="115.61" r="1.5" fill="#fff" fill-opacity="0.5" stroke="#f4585a" stroke-width="0.6"/>
<circle cx="198.13" cy="117.07" r="1.5" fill="#fff" fill-opacity="0.5" stroke="#f4585a" stroke-width="0.6"/>
<circle cx="199.11" cy="115.40" r="1.5" fill="#fff" fill-opacity="0.5" stroke="#f4585a" stroke-width="0.6"/>
<circle cx="200.08" cy="116.72" r="1.5" fill="#fff" fill-opacity="0.5" stroke="#f4585a" stroke-width="0.6"/>
<circle cx="201.06" cy="116.97" r="1.5" fill="#fff" fill-opacity="0.5" stroke="#f4585a" stroke-width="0.6"/>
<circle cx="202.03" cy="115.49" r="1.5" fill="#fff" fill-opacity="0.5" stroke="#f4585a" stroke-width="0.6"/>
<circle cx="203.01" cy="116.17" r="1.5" fill="#fff" fill-opacity="0.5" stroke="#f4585a" stroke-width="0.6"/>
<circle cx="203.98" cy="117.25" r="1.5" fill="#fff" fill-opacity="0.5" stroke="#f4585a" stroke-width="0.6"/>
<circle cx="204.96" cy="115.29" r="1.5" fill="#fff" fill-opacity="0.5" stroke="#f4585a" stroke-width="0.6"/>
<circle cx="205.93" cy="117.96" r="1.5" fill="#fff" fill-opacity="0.5" stroke="#f4585a" stroke-width="0.6"/>
<circle cx="206.91" cy="116.16" r="1.5" fill="#fff" fill-opacity="0.5" stroke="#f4585a" stroke-width="0.6"/>
<circle cx="207.88" cy="117.78" r="1.5" fill="#fff" fill-opacity="0.5" stroke="#f4585a" stroke-width="0.6"/>
<circle cx="208.86" cy="118.34" r="1.5" fill="#fff" fill-opacity="0.5" stroke="#f4585a" stroke-width="0.6"/>
<circle cx="209.83" cy="117.22" r="1.5" fill="#fff" fill-opacity="0.5" stroke="#f4585a" stroke-width="0.6"/>
<circle cx="210.80" cy="116.44" r="1.5" fill="#fff" fill-opacity="0.5" stroke="#f4585a" stroke-width="0.6"/>
<circle cx="211.78" cy="117.40" r="1.5" fill="#fff" fill-opacity="0.5" stroke="#f4585a" stroke-width="0.6"/>
<circle cx="212.75" cy="101.96" r="1.5" fill="#fff" fill-opacity="0.5" stroke="#f4585a" stroke-width="0.6"/>
<circle cx="213.73" cy="103.95" r="1.5" fill="#fff" fill-opacity="0.5" stroke="#f4585a" stroke-width="0.6"/>
<circle cx="214.70" cy="101.41" r="1.5" fill="#fff" fill-opacity="0.5" stroke="#f4585a" stroke-width="0.6"/>
<circle cx="215.68" cy="101.45" r="1.5" fill="#fff" fill-opacity="0.5" stroke="#f4585a" stroke-width="0.6"/>
<circle cx="216.65" cy="103.07" r="1.5" fill="#fff" fill-opacity="0.5" stroke="#f4585a" stroke-width="0.6"/>
<circle cx="217.63" cy="103.13" r="1.5" fill="#fff" fill-opacity="0.5" stroke="#f4585a" stroke-width="0.6"/>
<circle cx="218.60" cy="100.80" r="1.5" fill="#fff" fill-opacity="0.5" stroke="#f4585a" stroke-width="0.6"/>
<circle cx="219.58" cy="101.35" r="1.5" fill="#fff" fill-opacity="0.5" stroke="#f4585a" stroke-width="0.6"/>
<circle cx="220.55" cy="103.00" r="1.5" fill="#fff" fill-opacity="0.5" stroke="#f4585a" stroke-width="0.6"/>
<circle cx="221.53" cy="101.10" r="1.5" fill="#fff" fill-opacity="0.5" stroke="#f4585a" stroke-width="0.6"/>
<circle cx="222.50" cy="100.20" r="1.5" fill="#fff" fill-opacity="0.5" stroke="#f4585a" stroke-width="0.6"/>
<circle cx="223.48" cy="101.83" r="1.5" fill="#fff" fill-opacity="0.5" stroke="#f4585a" stroke-width="0.6"/>
<circle cx="224.45" cy="98.92" r="1.5" fill="#fff" fill-opacity="0.5" stroke="#f4585a" stroke-width="0.6"/>
<circle cx="225.43" cy="100.04" r="1.5" fill="#fff" fill-opacity="0.5" stroke="#f4585a" stroke-width="0.6"/>
<circle cx="226.40" cy="101.60" r="1.5" fill="#fff" fill-opacity="0.5" stroke="#f4585a" stroke-width="0.6"/>
<circle cx="227.38" cy="98.06" r="1.5" fill="#fff" fill-opacity="0.5" stroke="#f4585a" stroke-width="0.6"/>
<circle cx="228.35" cy="99.05" r="1.5" fill="#fff" fill-opacity="0.5" stroke="#f4585a" stroke-width="0.6"/>
<circle cx="229.33" cy="101.76" r="1.5" fill="#fff" fill-opacity="0.5" stroke="#f4585a" stroke-width="0.6"/>
<circle cx="230.30" cy="98.97" r="1.5" fill="#fff" fill-opacity="0.5" stroke="#f4585a" stroke-width="0.6"/>
<circle cx="231.28" cy="99.30" r="1.5" fill="#fff" fill-opacity="0.5" stroke="#f4585a" stroke-width="0.6"/>
<circle cx="232.25" cy="116.79" r="1.5" fill="#fff" fill-opacity="0.5" stroke="#f4585a" stroke-width="0.6"/>
<circle cx="233.23" cy="117.76" r="1.5" fill="#fff" fill-opacity="0.5" stroke="#f4585a" stroke-width="0.6"/>
<circle cx="234.20" cy="116.57" r="1.5" fill="#fff" fill-opacity="0.5" stroke="#f4585a" stroke-width="0.6"/>
<circle cx="235.18" cy="116.67" r="1.5" fill="#fff" fill-opacity="0.5" stroke="#f4585a" stroke-width="0.6"/>
<circle cx="236.15" cy="117.63" r="1.5" fill="#fff" fill-opacity="0.5" stroke="#f4585a" stroke-width="0.6"/>
<circle cx="237.13" cy="116.53" r="1.5" fill="#fff" fill-opacity="0.5" stroke="#f4585a" stroke-width="0.6"/>
<circle cx="238.10" cy="116.61" r="1.5" fill="#fff" fill-opacity="0.5" stroke="#f4585a" stroke-width="0.6"/>
<circle cx="239.08" cy="117.59" r="1.5" fill="#fff" fill-opacity="0.5" stroke="#f4585a" stroke-width="0.6"/>
<circle cx="240.05" cy="116.21" r="1.5" fill="#fff" fill-opacity="0.5" stroke="#f4585a" stroke-width="0.6"/>
<circle cx="241.03" cy="116.48" r="1.5" fill="#fff" fill-opacity="0.5" stroke="#f4585a" stroke-width="0.6"/>
<circle cx="242.00" cy="116.16" r="1.5" fill="#fff" fill-opacity="0.5" stroke="#f4585a" stroke-width="0.6"/>
<circle cx="242.98" cy="115.52" r="1.5" fill="#fff" fill-opacity="0.5" stroke="#f4585a" stroke-width="0.6"/>
<circle cx="243.95" cy="117.37" r="1.5" fill="#fff" fill-opacity="0.5" stroke="#f4585a" stroke-width="0.6"/>
<circle cx="244.93" cy="118.00" r="1.5" fill="#fff" fill-opacity="0.5" stroke="#f4585a" stroke-width="0.6"/>
<circle cx="245.90" cy="117.94" r="1.5" fill="#fff" fill-opacity="0.5" stroke="#f4585a" stroke-width="0.6"/>
<circle cx="246.88" cy="116.27" r="1.5" fill="#fff" fill-opacity="0.5" stroke="#f4585a" stroke-width="0.6"/>
<circle cx="247.85" cy="117.79" r="1.5" fill="#fff" fill-opacity="0.5" stroke="#f4585a" stroke-width="0.6"/>
<circle cx="248.83" cy="115.83" r="1.5" fill="#fff" fill-opacity="0.5" stroke="#f4585a" stroke-width="0.6"/>
<circle cx="249.80" cy="116.59" r="1.5" fill="#fff" fill-opacity="0.5" stroke="#f4585a" stroke-width="0.6"/>
<circle cx="68.11" cy="108.84" r="1.6" fill="#fff" stroke="#f4585a" stroke-width="0.7"/>
<circle cx="77.25" cy="99.68" r="1.6" fill="#fff" stroke="#f4585a" stroke-width="0.7"/>
<circle cx="79.68" cy="99.22" r="1.6" fill="#fff" stroke="#f4585a" stroke-width="0.7"/>
<circle cx="83.34" cy="102.89" r="1.6" fill="#fff" stroke="#f4585a" stroke-width="0.7"/>
<circle cx="85.78" cy="113.42" r="1.6" fill="#fff" stroke="#f4585a" stroke-width="0.7"/>
<circle cx="104.06" cy="105.18" r="1.6" fill="#fff" stroke="#f4585a" stroke-width="0.7"/>
<circle cx="121.12" cy="99.68" r="1.6" fill="#fff" stroke="#f4585a" stroke-width="0.7"/>
<circle cx="139.39" cy="106.55" r="1.6" fill="#fff" stroke="#f4585a" stroke-width="0.7"/>
<circle cx="156.46" cy="98.76" r="1.6" fill="#fff" stroke="#f4585a" stroke-width="0.7"/>
<circle cx="158.89" cy="111.59" r="1.6" fill="#fff" stroke="#f4585a" stroke-width="0.7"/>
<circle cx="177.17" cy="104.26" r="1.6" fill="#fff" stroke="#f4585a" stroke-width="0.7"/>
<circle cx="194.23" cy="100.60" r="1.6" fill="#fff" stroke="#f4585a" stroke-width="0.7"/>
<circle cx="212.51" cy="105.18" r="1.6" fill="#fff" stroke="#f4585a" stroke-width="0.7"/>
<circle cx="230.79" cy="99.22" r="1.6" fill="#fff" stroke="#f4585a" stroke-width="0.7"/>
<polyline points="48.00,171.74 48.49,172.12 48.97,171.41 49.46,171.85 49.95,171.82 50.44,171.40 50.92,172.47 51.41,171.25 51.90,171.75 52.39,172.07 52.87,171.52 53.36,172.25 53.85,171.25 54.34,171.82 54.82,172.12 55.31,171.56 55.80,172.01 56.29,172.37 56.77,171.59 57.26,172.55 57.75,171.49 58.24,172.26 58.72,171.73 59.21,171.26 59.70,171.81 60.19,171.70 60.67,172.18 61.16,172.61 61.65,172.57 62.14,172.41 62.62,171.77 63.11,172.02 63.60,171.91 64.09,171.38 64.57,172.43 65.06,172.30 65.55,171.72 66.04,172.58 66.52,165.52 67.01,163.57 67.50,163.06 67.99,161.55 68.47,160.98 68.96,159.42 69.45,158.70 69.93,158.92 70.42,157.43 70.91,157.24 71.40,157.52 71.88,155.34 72.37,156.49 72.86,156.36 73.35,156.17 73.83,154.70 74.32,153.94 74.81,153.91 75.30,154.54 75.78,154.66 76.27,155.05 76.76,153.51 77.25,153.56 77.73,153.90 78.22,153.14 78.71,153.49 79.20,152.32 79.68,152.68 80.17,153.68 80.66,152.17 81.15,154.00 81.63,152.88 82.12,153.11 82.61,153.43 83.10,153.79 83.58,152.17 84.07,153.82 84.56,152.61 85.05,151.73 85.53,172.42 86.02,172.34 86.51,171.78 87.00,171.92 87.48,171.73 87.97,171.50 88.46,172.37 88.94,172.19 89.43,172.20 89.92,172.55 90.41,171.39 90.89,171.54 91.38,171.63 91.87,172.60 92.36,171.45 92.84,171.59 93.33,171.97 93.82,171.59 94.31,171.99 94.79,172.30 95.28,172.47 95.77,172.29 96.26,172.56 96.74,172.15 97.23,171.58 97.72,171.66 98.21,171.45 98.69,171.64 99.18,172.25 99.67,171.85 100.16,172.01 100.64,171.53 101.13,171.89 101.62,172.25 102.11,171.73 102.59,171.29 103.08,160.61 103.57,158.24 104.06,159.31 104.54,158.03 105.03,157.42 105.52,155.70 106.01,154.71 106.49,154.65 106.98,155.13 107.47,153.52 107.96,154.37 108.44,154.24 108.93,152.48 109.42,152.82 109.90,152.45 110.39,152.29 110.88,151.41 111.37,152.35 111.85,151.38 112.34,151.55 112.83,151.07 113.32,151.88 113.80,151.15 114.29,151.39 114.78,151.88 115.27,152.02 115.75,151.04 116.24,152.18 116.73,150.29 117.22,151.93 117.70,152.14 118.19,151.92 118.68,150.08 119.17,151.33 119.65,151.74 120.14,151.97 120.63,151.91 121.12,150.46 121.60,150.57 122.09,171.66 122.58,171.60 123.07,172.52 123.55,171.80 124.04,172.11 124.53,171.49 125.02,171.49 125.50,171.39 125.99,172.52 126.48,171.42 126.97,171.36 127.45,171.32 127.94,172.47 128.43,172.33 128.92,172.46 129.40,172.57 129.89,171.45 130.38,171.50 130.86,171.74 131.35,171.48 131.84,171.75 132.33,172.22 132.81,172.48 133.30,172.48 133.79,171.57 134.28,172.33 134.76,172.17 135.25,172.03 135.74,172.58 136.23,172.26 136.71,172.22 137.20,171.63 137.69,172.11 138.18,172.17 138.66,171.29 139.15,171.92 139.64,155.62 140.13,155.35 140.61,155.93 141.10,154.46 141.59,153.83 142.08,152.57 142.56,153.04 143.05,151.84 143.54,151.82 144.03,152.19 144.51,150.46 145.00,151.88 145.49,150.02 145.98,151.22 146.46,151.39 146.95,150.76 147.44,149.37 147.93,148.74 148.41,150.75 148.90,149.56 149.39,149.44 149.87,148.67 150.36,149.93 150.85,149.17 151.34,149.42 151.82,148.29 152.31,149.49 152.80,147.93 153.29,149.33 153.77,149.44 154.26,148.34 154.75,148.74 155.24,149.56 155.72,148.38 156.21,149.57 156.70,148.00 157.19,148.17 157.67,147.96 158.16,148.29 158.65,172.12 159.14,172.06 159.62,172.07 160.11,171.39 160.60,172.49 161.09,171.39 161.57,172.58 162.06,172.33 162.55,172.25 163.04,171.37 163.52,171.92 164.01,172.09 164.50,171.40 164.99,172.29 165.47,171.98 165.96,171.88 166.45,171.58 166.94,171.58 167.42,171.72 167.91,172.13 168.40,172.16 168.89,172.40 169.37,171.45 169.86,171.70 170.35,171.59 170.83,172.38 171.32,172.01 171.81,171.55 172.30,171.82 172.78,172.44 173.27,171.98 173.76,171.40 174.25,172.29 174.73,172.35 175.22,172.20 175.71,171.65 176.20,153.80 176.68,154.53 177.17,153.83 177.66,152.99 178.15,152.24 178.63,151.29 179.12,151.62 179.61,150.83 180.10,150.76 180.58,148.69 181.07,148.92 181.56,150.02 182.05,147.88 182.53,149.54 183.02,148.72 183.51,147.21 184.00,147.46 184.48,147.45 184.97,147.97 185.46,148.37 185.95,147.29 186.43,148.36 186.92,148.05 187.41,147.57 187.90,148.28 188.38,147.41 188.87,146.49 189.36,146.65 189.85,147.02 190.33,146.69 190.82,147.02 191.31,147.69 191.79,146.65 192.28,147.06 192.77,146.29 193.26,145.90 193.74,146.93 194.23,146.59 194.72,146.19 195.21,172.03 195.69,172.30 196.18,171.62 196.67,171.40 197.16,171.55 197.64,171.65 198.13,171.44 198.62,171.68 199.11,171.73 199.59,171.99 200.08,172.18 200.57,171.75 201.06,172.48 201.54,172.04 202.03,171.54 202.52,171.63 203.01,171.75 203.49,172.27 203.98,172.03 204.47,171.99 204.96,171.76 205.44,172.05 205.93,171.69 206.42,171.33 206.91,172.36 207.39,171.71 207.88,171.54 208.37,172.08 208.86,171.94 209.34,171.27 209.83,172.56 210.32,171.87 210.80,172.39 211.29,171.54 211.78,171.32 212.27,171.90 212.75,154.54 213.24,152.76 213.73,152.17 214.22,151.18 214.70,151.09 215.19,150.32 215.68,149.46 216.17,149.74 216.65,149.63 217.14,148.12 217.63,149.45 218.12,148.15 218.60,148.55 219.09,147.52 219.58,148.74 220.07,146.67 220.55,147.89 221.04,148.41 221.53,147.80 222.02,147.41 222.50,148.16 222.99,147.17 223.48,147.08 223.97,146.40 224.45,147.09 224.94,147.22 225.43,147.25 225.92,146.07 226.40,145.58 226.89,146.45 227.38,147.09 227.87,145.78 228.35,146.65 228.84,147.02 229.33,147.17 229.82,145.73 230.30,145.64 230.79,146.00 231.28,146.35 231.76,171.84 232.25,172.30 232.74,171.29 233.23,172.13 233.71,171.74 234.20,171.49 234.69,171.49 235.18,171.97 235.66,172.21 236.15,171.86 236.64,172.44 237.13,171.47 237.61,172.13 238.10,171.44 238.59,172.25 239.08,172.10 239.56,172.26 240.05,172.03 240.54,172.36 241.03,172.61 241.51,171.62 242.00,172.23 242.49,172.28 242.98,172.20 243.46,171.95 243.95,172.02 244.44,171.74 244.93,171.71 245.41,172.12 245.90,171.34 246.39,171.44 246.88,172.53 247.36,171.48 247.85,171.37 248.34,171.54 248.83,172.42 249.31,171.47 249.80,171.74" fill="none" stroke="#1f7fe0" stroke-width="2.2" stroke-linejoin="round"/>
<path d="M48.00,170.04L49.50,172.84L46.50,172.84Z" fill="none" stroke="#1f7fe0" stroke-width="0.6"/>
<path d="M48.97,169.71L50.47,172.51L47.47,172.51Z" fill="none" stroke="#1f7fe0" stroke-width="0.6"/>
<path d="M49.95,170.12L51.45,172.92L48.45,172.92Z" fill="none" stroke="#1f7fe0" stroke-width="0.6"/>
<path d="M50.92,170.77L52.42,173.57L49.42,173.57Z" fill="none" stroke="#1f7fe0" stroke-width="0.6"/>
<path d="M51.90,170.05L53.40,172.85L50.40,172.85Z" fill="none" stroke="#1f7fe0" stroke-width="0.6"/>
<path d="M52.87,169.82L54.37,172.62L51.37,172.62Z" fill="none" stroke="#1f7fe0" stroke-width="0.6"/>
<path d="M53.85,169.55L55.35,172.35L52.35,172.35Z" fill="none" stroke="#1f7fe0" stroke-width="0.6"/>
<path d="M54.82,170.42L56.32,173.22L53.32,173.22Z" fill="none" stroke="#1f7fe0" stroke-width="0.6"/>
<path d="M55.80,170.31L57.30,173.11L54.30,173.11Z" fill="none" stroke="#1f7fe0" stroke-width="0.6"/>
<path d="M56.77,169.89L58.27,172.69L55.27,172.69Z" fill="none" stroke="#1f7fe0" stroke-width="0.6"/>
<path d="M57.75,169.79L59.25,172.59L56.25,172.59Z" fill="none" stroke="#1f7fe0" stroke-width="0.6"/>
<path d="M58.72,170.03L60.22,172.83L57.22,172.83Z" fill="none" stroke="#1f7fe0" stroke-width="0.6"/>
<path d="M59.70,170.11L61.20,172.91L58.20,172.91Z" fill="none" stroke="#1f7fe0" stroke-width="0.6"/>
<path d="M60.67,170.48L62.17,173.28L59.17,173.28Z" fill="none" stroke="#1f7fe0" stroke-width="0.6"/>
<path d="M61.65,170.87L63.15,173.67L60.15,173.67Z" fill="none" stroke="#1f7fe0" stroke-width="0.6"/>
<path d="M62.62,170.07L64.12,172.87L61.12,172.87Z" fill="none" stroke="#1f7fe0" stroke-width="0.6"/>
<path d="M63.60,170.21L65.10,173.01L62.10,173.01Z" fill="none" stroke="#1f7fe0" stroke-width="0.6"/>
<path d="M64.57,170.73L66.07,173.53L63.07,173.53Z" fill="none" stroke="#1f7fe0" stroke-width="0.6"/>
<path d="M65.55,170.02L67.05,172.82L64.05,172.82Z" fill="none" stroke="#1f7fe0" stroke-width="0.6"/>
<path d="M66.52,163.82L68.02,166.62L65.02,166.62Z" fill="none" stroke="#1f7fe0" stroke-width="0.6"/>
<path d="M67.50,161.36L69.00,164.16L66.00,164.16Z" fill="none" stroke="#1f7fe0" stroke-width="0.6"/>
<path d="M68.47,159.28L69.97,162.08L66.97,162.08Z" fill="none" stroke="#1f7fe0" stroke-width="0.6"/>
<path d="M69.45,157.00L70.95,159.80L67.95,159.80Z" fill="none" stroke="#1f7fe0" stroke-width="0.6"/>
<path d="M70.42,155.73L71.92,158.53L68.92,158.53Z" fill="none" stroke="#1f7fe0" stroke-width="0.6"/>
<path d="M71.40,155.82L72.90,158.62L69.90,158.62Z" fill="none" stroke="#1f7fe0" stroke-width="0.6"/>
<path d="M72.37,154.79L73.87,157.59L70.87,157.59Z" fill="none" stroke="#1f7fe0" stroke-width="0.6"/>
<path d="M73.35,154.47L74.85,157.27L71.85,157.27Z" fill="none" stroke="#1f7fe0" stroke-width="0.6"/>
<path d="M74.32,152.24L75.82,155.04L72.82,155.04Z" fill="none" stroke="#1f7fe0" stroke-width="0.6"/>
<path d="M75.30,152.84L76.80,155.64L73.80,155.64Z" fill="none" stroke="#1f7fe0" stroke-width="0.6"/>
<path d="M76.27,153.35L77.77,156.15L74.77,156.15Z" fill="none" stroke="#1f7fe0" stroke-width="0.6"/>
<path d="M77.25,151.86L78.75,154.66L75.75,154.66Z" fill="none" stroke="#1f7fe0" stroke-width="0.6"/>
<path d="M78.22,151.44L79.72,154.24L76.72,154.24Z" fill="none" stroke="#1f7fe0" stroke-width="0.6"/>
<path d="M79.20,150.62L80.70,153.42L77.70,153.42Z" fill="none" stroke="#1f7fe0" stroke-width="0.6"/>
<path d="M80.17,151.98L81.67,154.78L78.67,154.78Z" fill="none" stroke="#1f7fe0" stroke-width="0.6"/>
<path d="M81.15,152.30L82.65,155.10L79.65,155.10Z" fill="none" stroke="#1f7fe0" stroke-width="0.6"/>
<path d="M82.12,151.41L83.62,154.21L80.62,154.21Z" fill="none" stroke="#1f7fe0" stroke-width="0.6"/>
<path d="M83.10,152.09L84.60,154.89L81.60,154.89Z" fill="none" stroke="#1f7fe0" stroke-width="0.6"/>
<path d="M84.07,152.12L85.57,154.92L82.57,154.92Z" fill="none" stroke="#1f7fe0" stroke-width="0.6"/>
<path d="M85.05,150.03L86.55,152.83L83.55,152.83Z" fill="none" stroke="#1f7fe0" stroke-width="0.6"/>
<path d="M86.02,170.64L87.52,173.44L84.52,173.44Z" fill="none" stroke="#1f7fe0" stroke-width="0.6"/>
<path d="M87.00,170.22L88.50,173.02L85.50,173.02Z" fill="none" stroke="#1f7fe0" stroke-width="0.6"/>
<path d="M87.97,169.80L89.47,172.60L86.47,172.60Z" fill="none" stroke="#1f7fe0" stroke-width="0.6"/>
<path d="M88.94,170.49L90.44,173.29L87.44,173.29Z" fill="none" stroke="#1f7fe0" stroke-width="0.6"/>
<path d="M89.92,170.85L91.42,173.65L88.42,173.65Z" fill="none" stroke="#1f7fe0" stroke-width="0.6"/>
<path d="M90.89,169.84L92.39,172.64L89.39,172.64Z" fill="none" stroke="#1f7fe0" stroke-width="0.6"/>
<path d="M91.87,170.90L93.37,173.70L90.37,173.70Z" fill="none" stroke="#1f7fe0" stroke-width="0.6"/>
<path d="M92.84,169.89L94.34,172.69L91.34,172.69Z" fill="none" stroke="#1f7fe0" stroke-width="0.6"/>
<path d="M93.82,169.89L95.32,172.69L92.32,172.69Z" fill="none" stroke="#1f7fe0" stroke-width="0.6"/>
<path d="M94.79,170.60L96.29,173.40L93.29,173.40Z" fill="none" stroke="#1f7fe0" stroke-width="0.6"/>
<path d="M95.77,170.59L97.27,173.39L94.27,173.39Z" fill="none" stroke="#1f7fe0" stroke-width="0.6"/>
<path d="M96.74,170.45L98.24,173.25L95.24,173.25Z" fill="none" stroke="#1f7fe0" stroke-width="0.6"/>
<path d="M97.72,169.96L99.22,172.76L96.22,172.76Z" fill="none" stroke="#1f7fe0" stroke-width="0.6"/>
<path d="M98.69,169.94L100.19,172.74L97.19,172.74Z" fill="none" stroke="#1f7fe0" stroke-width="0.6"/>
<path d="M99.67,170.15L101.17,172.95L98.17,172.95Z" fill="none" stroke="#1f7fe0" stroke-width="0.6"/>
<path d="M100.64,169.83L102.14,172.63L99.14,172.63Z" fill="none" stroke="#1f7fe0" stroke-width="0.6"/>
<path d="M101.62,170.55L103.12,173.35L100.12,173.35Z" fill="none" stroke="#1f7fe0" stroke-width="0.6"/>
<path d="M102.59,169.59L104.09,172.39L101.09,172.39Z" fill="none" stroke="#1f7fe0" stroke-width="0.6"/>
<path d="M103.57,156.54L105.07,159.34L102.07,159.34Z" fill="none" stroke="#1f7fe0" stroke-width="0.6"/>
<path d="M104.54,156.33L106.04,159.13L103.04,159.13Z" fill="none" stroke="#1f7fe0" stroke-width="0.6"/>
<path d="M105.52,154.00L107.02,156.80L104.02,156.80Z" fill="none" stroke="#1f7fe0" stroke-width="0.6"/>
<path d="M106.49,152.95L107.99,155.75L104.99,155.75Z" fill="none" stroke="#1f7fe0" stroke-width="0.6"/>
<path d="M107.47,151.82L108.97,154.62L105.97,154.62Z" fill="none" stroke="#1f7fe0" stroke-width="0.6"/>
<path d="M108.44,152.54L109.94,155.34L106.94,155.34Z" fill="none" stroke="#1f7fe0" stroke-width="0.6"/>
<path d="M109.42,151.12L110.92,153.92L107.92,153.92Z" fill="none" stroke="#1f7fe0" stroke-width="0.6"/>
<path d="M110.39,150.59L111.89,153.39L108.89,153.39Z" fill="none" stroke="#1f7fe0" stroke-width="0.6"/>
<path d="M111.37,150.65L112.87,153.45L109.87,153.45Z" fill="none" stroke="#1f7fe0" stroke-width="0.6"/>
<path d="M112.34,149.85L113.84,152.65L110.84,152.65Z" fill="none" stroke="#1f7fe0" stroke-width="0.6"/>
<path d="M113.32,150.18L114.82,152.98L111.82,152.98Z" fill="none" stroke="#1f7fe0" stroke-width="0.6"/>
<path d="M114.29,149.69L115.79,152.49L112.79,152.49Z" fill="none" stroke="#1f7fe0" stroke-width="0.6"/>
<path d="M115.27,150.32L116.77,153.12L113.77,153.12Z" fill="none" stroke="#1f7fe0" stroke-width="0.6"/>
<path d="M116.24,150.48L117.74,153.28L114.74,153.28Z" fill="none" stroke="#1f7fe0" stroke-width="0.6"/>
<path d="M117.22,150.23L118.72,153.03L115.72,153.03Z" fill="none" stroke="#1f7fe0" stroke-width="0.6"/>
<path d="M118.19,150.22L119.69,153.02L116.69,153.02Z" fill="none" stroke="#1f7fe0" stroke-width="0.6"/>
<path d="M119.17,149.63L120.67,152.43L117.67,152.43Z" fill="none" stroke="#1f7fe0" stroke-width="0.6"/>
<path d="M120.14,150.27L121.64,153.07L118.64,153.07Z" fill="none" stroke="#1f7fe0" stroke-width="0.6"/>
<path d="M121.12,148.76L122.62,151.56L119.62,151.56Z" fill="none" stroke="#1f7fe0" stroke-width="0.6"/>
<path d="M122.09,169.96L123.59,172.76L120.59,172.76Z" fill="none" stroke="#1f7fe0" stroke-width="0.6"/>
<path d="M123.07,170.82L124.57,173.62L121.57,173.62Z" fill="none" stroke="#1f7fe0" stroke-width="0.6"/>
<path d="M124.04,170.41L125.54,173.21L122.54,173.21Z" fill="none" stroke="#1f7fe0" stroke-width="0.6"/>
<path d="M125.02,169.79L126.52,172.59L123.52,172.59Z" fill="none" stroke="#1f7fe0" stroke-width="0.6"/>
<path d="M125.99,170.82L127.49,173.62L124.49,173.62Z" fill="none" stroke="#1f7fe0" stroke-width="0.6"/>
<path d="M126.97,169.66L128.47,172.46L125.47,172.46Z" fill="none" stroke="#1f7fe0" stroke-width="0.6"/>
<path d="M127.94,170.77L129.44,173.57L126.44,173.57Z" fill="none" stroke="#1f7fe0" stroke-width="0.6"/>
<path d="M128.92,170.76L130.42,173.56L127.42,173.56Z" fill="none" stroke="#1f7fe0" stroke-width="0.6"/>
<path d="M129.89,169.75L131.39,172.55L128.39,172.55Z" fill="none" stroke="#1f7fe0" stroke-width="0.6"/>
<path d="M130.86,170.04L132.36,172.84L129.36,172.84Z" fill="none" stroke="#1f7fe0" stroke-width="0.6"/>
<path d="M131.84,170.05L133.34,172.85L130.34,172.85Z" fill="none" stroke="#1f7fe0" stroke-width="0.6"/>
<path d="M132.81,170.78L134.31,173.58L131.31,173.58Z" fill="none" stroke="#1f7fe0" stroke-width="0.6"/>
<path d="M133.79,169.87L135.29,172.67L132.29,172.67Z" fill="none" stroke="#1f7fe0" stroke-width="0.6"/>
<path d="M134.76,170.47L136.26,173.27L133.26,173.27Z" fill="none" stroke="#1f7fe0" stroke-width="0.6"/>
<path d="M135.74,170.88L137.24,173.68L134.24,173.68Z" fill="none" stroke="#1f7fe0" stroke-width="0.6"/>
<path d="M136.71,170.52L138.21,173.32L135.21,173.32Z" fill="none" stroke="#1f7fe0" stroke-width="0.6"/>
<path d="M137.69,170.41L139.19,173.21L136.19,173.21Z" fill="none" stroke="#1f7fe0" stroke-width="0.6"/>
<path d="M138.66,169.59L140.16,172.39L137.16,172.39Z" fill="none" stroke="#1f7fe0" stroke-width="0.6"/>
<path d="M139.64,153.92L141.14,156.72L138.14,156.72Z" fill="none" stroke="#1f7fe0" stroke-width="0.6"/>
<path d="M140.61,154.23L142.11,157.03L139.11,157.03Z" fill="none" stroke="#1f7fe0" stroke-width="0.6"/>
<path d="M141.59,152.13L143.09,154.93L140.09,154.93Z" fill="none" stroke="#1f7fe0" stroke-width="0.6"/>
<path d="M142.56,151.34L144.06,154.14L141.06,154.14Z" fill="none" stroke="#1f7fe0" stroke-width="0.6"/>
<path d="M143.54,150.12L145.04,152.92L142.04,152.92Z" fill="none" stroke="#1f7fe0" stroke-width="0.6"/>
<path d="M144.51,148.76L146.01,151.56L143.01,151.56Z" fill="none" stroke="#1f7fe0" stroke-width="0.6"/>
<path d="M145.49,148.32L146.99,151.12L143.99,151.12Z" fill="none" stroke="#1f7fe0" stroke-width="0.6"/>
<path d="M146.46,149.69L147.96,152.49L144.96,152.49Z" fill="none" stroke="#1f7fe0" stroke-width="0.6"/>
<path d="M147.44,147.67L148.94,150.47L145.94,150.47Z" fill="none" stroke="#1f7fe0" stroke-width="0.6"/>
<path d="M148.41,149.05L149.91,151.85L146.91,151.85Z" fill="none" stroke="#1f7fe0" stroke-width="0.6"/>
<path d="M149.39,147.74L150.89,150.54L147.89,150.54Z" fill="none" stroke="#1f7fe0" stroke-width="0.6"/>
<path d="M150.36,148.23L151.86,151.03L148.86,151.03Z" fill="none" stroke="#1f7fe0" stroke-width="0.6"/>
<path d="M151.34,147.72L152.84,150.52L149.84,150.52Z" fill="none" stroke="#1f7fe0" stroke-width="0.6"/>
<path d="M152.31,147.79L153.81,150.59L150.81,150.59Z" fill="none" stroke="#1f7fe0" stroke-width="0.6"/>
<path d="M153.29,147.63L154.79,150.43L151.79,150.43Z" fill="none" stroke="#1f7fe0" stroke-width="0.6"/>
<path d="M154.26,146.64L155.76,149.44L152.76,149.44Z" fill="none" stroke="#1f7fe0" stroke-width="0.6"/>
<path d="M155.24,147.86L156.74,150.66L153.74,150.66Z" fill="none" stroke="#1f7fe0" stroke-width="0.6"/>
<path d="M156.21,147.87L157.71,150.67L154.71,150.67Z" fill="none" stroke="#1f7fe0" stroke-width="0.6"/>
<path d="M157.19,146.47L158.69,149.27L155.69,149.27Z" fill="none" stroke="#1f7fe0" stroke-width="0.6"/>
<path d="M158.16,146.59L159.66,149.39L156.66,149.39Z" fill="none" stroke="#1f7fe0" stroke-width="0.6"/>
<path d="M159.14,170.36L160.64,173.16L157.64,173.16Z" fill="none" stroke="#1f7fe0" stroke-width="0.6"/>
<path d="M160.11,169.69L161.61,172.49L158.61,172.49Z" fill="none" stroke="#1f7fe0" stroke-width="0.6"/>
<path d="M161.09,169.69L162.59,172.49L159.59,172.49Z" fill="none" stroke="#1f7fe0" stroke-width="0.6"/>
<path d="M162.06,170.63L163.56,173.43L160.56,173.43Z" fill="none" stroke="#1f7fe0" stroke-width="0.6"/>
<path d="M163.04,169.67L164.54,172.47L161.54,172.47Z" fill="none" stroke="#1f7fe0" stroke-width="0.6"/>
<path d="M164.01,170.39L165.51,173.19L162.51,173.19Z" fill="none" stroke="#1f7fe0" stroke-width="0.6"/>
<path d="M164.99,170.59L166.49,173.39L163.49,173.39Z" fill="none" stroke="#1f7fe0" stroke-width="0.6"/>
<path d="M165.96,170.18L167.46,172.98L164.46,172.98Z" fill="none" stroke="#1f7fe0" stroke-width="0.6"/>
<path d="M166.94,169.88L168.44,172.68L165.44,172.68Z" fill="none" stroke="#1f7fe0" stroke-width="0.6"/>
<path d="M167.91,170.43L169.41,173.23L166.41,173.23Z" fill="none" stroke="#1f7fe0" stroke-width="0.6"/>
<path d="M168.89,170.70L170.39,173.50L167.39,173.50Z" fill="none" stroke="#1f7fe0" stroke-width="0.6"/>
<path d="M169.86,170.00L171.36,172.80L168.36,172.80Z" fill="none" stroke="#1f7fe0" stroke-width="0.6"/>
<path d="M170.83,170.68L172.33,173.48L169.33,173.48Z" fill="none" stroke="#1f7fe0" stroke-width="0.6"/>
<path d="M171.81,169.85L173.31,172.65L170.31,172.65Z" fill="none" stroke="#1f7fe0" stroke-width="0.6"/>
<path d="M172.78,170.74L174.28,173.54L171.28,173.54Z" fill="none" stroke="#1f7fe0" stroke-width="0.6"/>
<path d="M173.76,169.70L175.26,172.50L172.26,172.50Z" fill="none" stroke="#1f7fe0" stroke-width="0.6"/>
<path d="M174.73,170.65L176.23,173.45L173.23,173.45Z" fill="none" stroke="#1f7fe0" stroke-width="0.6"/>
<path d="M175.71,169.95L177.21,172.75L174.21,172.75Z" fill="none" stroke="#1f7fe0" stroke-width="0.6"/>
<path d="M176.68,152.83L178.18,155.63L175.18,155.63Z" fill="none" stroke="#1f7fe0" stroke-width="0.6"/>
<path d="M177.66,151.29L179.16,154.09L176.16,154.09Z" fill="none" stroke="#1f7fe0" stroke-width="0.6"/>
<path d="M178.63,149.59L180.13,152.39L177.13,152.39Z" fill="none" stroke="#1f7fe0" stroke-width="0.6"/>
<path d="M179.61,149.13L181.11,151.93L178.11,151.93Z" fill="none" stroke="#1f7fe0" stroke-width="0.6"/>
<path d="M180.58,146.99L182.08,149.79L179.08,149.79Z" fill="none" stroke="#1f7fe0" stroke-width="0.6"/>
<path d="M181.56,148.32L183.06,151.12L180.06,151.12Z" fill="none" stroke="#1f7fe0" stroke-width="0.6"/>
<path d="M182.53,147.84L184.03,150.64L181.03,150.64Z" fill="none" stroke="#1f7fe0" stroke-width="0.6"/>
<path d="M183.51,145.51L185.01,148.31L182.01,148.31Z" fill="none" stroke="#1f7fe0" stroke-width="0.6"/>
<path d="M184.48,145.75L185.98,148.55L182.98,148.55Z" fill="none" stroke="#1f7fe0" stroke-width="0.6"/>
<path d="M185.46,146.67L186.96,149.47L183.96,149.47Z" fill="none" stroke="#1f7fe0" stroke-width="0.6"/>
<path d="M186.43,146.66L187.93,149.46L184.93,149.46Z" fill="none" stroke="#1f7fe0" stroke-width="0.6"/>
<path d="M187.41,145.87L188.91,148.67L185.91,148.67Z" fill="none" stroke="#1f7fe0" stroke-width="0.6"/>
<path d="M188.38,145.71L189.88,148.51L186.88,148.51Z" fill="none" stroke="#1f7fe0" stroke-width="0.6"/>
<path d="M189.36,144.95L190.86,147.75L187.86,147.75Z" fill="none" stroke="#1f7fe0" stroke-width="0.6"/>
<path d="M190.33,144.99L191.83,147.79L188.83,147.79Z" fill="none" stroke="#1f7fe0" stroke-width="0.6"/>
<path d="M191.31,145.99L192.81,148.79L189.81,148.79Z" fill="none" stroke="#1f7fe0" stroke-width="0.6"/>
<path d="M192.28,145.36L193.78,148.16L190.78,148.16Z" fill="none" stroke="#1f7fe0" stroke-width="0.6"/>
<path d="M193.26,144.20L194.76,147.00L191.76,147.00Z" fill="none" stroke="#1f7fe0" stroke-width="0.6"/>
<path d="M194.23,144.89L195.73,147.69L192.73,147.69Z" fill="none" stroke="#1f7fe0" stroke-width="0.6"/>
<path d="M195.21,170.33L196.71,173.13L193.71,173.13Z" fill="none" stroke="#1f7fe0" stroke-width="0.6"/>
<path d="M196.18,169.92L197.68,172.72L194.68,172.72Z" fill="none" stroke="#1f7fe0" stroke-width="0.6"/>
<path d="M197.16,169.85L198.66,172.65L195.66,172.65Z" fill="none" stroke="#1f7fe0" stroke-width="0.6"/>
<path d="M198.13,169.74L199.63,172.54L196.63,172.54Z" fill="none" stroke="#1f7fe0" stroke-width="0.6"/>
<path d="M199.11,170.03L200.61,172.83L197.61,172.83Z" fill="none" stroke="#1f7fe0" stroke-width="0.6"/>
<path d="M200.08,170.48L201.58,173.28L198.58,173.28Z" fill="none" stroke="#1f7fe0" stroke-width="0.6"/>
<path d="M201.06,170.78L202.56,173.58L199.56,173.58Z" fill="none" stroke="#1f7fe0" stroke-width="0.6"/>
<path d="M202.03,169.84L203.53,172.64L200.53,172.64Z" fill="none" stroke="#1f7fe0" stroke-width="0.6"/>
<path d="M203.01,170.05L204.51,172.85L201.51,172.85Z" fill="none" stroke="#1f7fe0" stroke-width="0.6"/>
<path d="M203.98,170.33L205.48,173.13L202.48,173.13Z" fill="none" stroke="#1f7fe0" stroke-width="0.6"/>
<path d="M204.96,170.06L206.46,172.86L203.46,172.86Z" fill="none" stroke="#1f7fe0" stroke-width="0.6"/>
<path d="M205.93,169.99L207.43,172.79L204.43,172.79Z" fill="none" stroke="#1f7fe0" stroke-width="0.6"/>
<path d="M206.91,170.66L208.41,173.46L205.41,173.46Z" fill="none" stroke="#1f7fe0" stroke-width="0.6"/>
<path d="M207.88,169.84L209.38,172.64L206.38,172.64Z" fill="none" stroke="#1f7fe0" stroke-width="0.6"/>
<path d="M208.86,170.24L210.36,173.04L207.36,173.04Z" fill="none" stroke="#1f7fe0" stroke-width="0.6"/>
<path d="M209.83,170.86L211.33,173.66L208.33,173.66Z" fill="none" stroke="#1f7fe0" stroke-width="0.6"/>
<path d="M210.80,170.69L212.30,173.49L209.30,173.49Z" fill="none" stroke="#1f7fe0" stroke-width="0.6"/>
<path d="M211.78,169.62L213.28,172.42L210.28,172.42Z" fill="none" stroke="#1f7fe0" stroke-width="0.6"/>
<path d="M212.75,152.84L214.25,155.64L211.25,155.64Z" fill="none" stroke="#1f7fe0" stroke-width="0.6"/>
<path d="M213.73,150.47L215.23,153.27L212.23,153.27Z" fill="none" stroke="#1f7fe0" stroke-width="0.6"/>
<path d="M214.70,149.39L216.20,152.19L213.20,152.19Z" fill="none" stroke="#1f7fe0" stroke-width="0.6"/>
<path d="M215.68,147.76L217.18,150.56L214.18,150.56Z" fill="none" stroke="#1f7fe0" stroke-width="0.6"/>
<path d="M216.65,147.93L218.15,150.73L215.15,150.73Z" fill="none" stroke="#1f7fe0" stroke-width="0.6"/>
<path d="M217.63,147.75L219.13,150.55L216.13,150.55Z" fill="none" stroke="#1f7fe0" stroke-width="0.6"/>
<path d="M218.60,146.85L220.10,149.65L217.10,149.65Z" fill="none" stroke="#1f7fe0" stroke-width="0.6"/>
<path d="M219.58,147.04L221.08,149.84L218.08,149.84Z" fill="none" stroke="#1f7fe0" stroke-width="0.6"/>
<path d="M220.55,146.19L222.05,148.99L219.05,148.99Z" fill="none" stroke="#1f7fe0" stroke-width="0.6"/>
<path d="M221.53,146.10L223.03,148.90L220.03,148.90Z" fill="none" stroke="#1f7fe0" stroke-width="0.6"/>
<path d="M222.50,146.46L224.00,149.26L221.00,149.26Z" fill="none" stroke="#1f7fe0" stroke-width="0.6"/>
<path d="M223.48,145.38L224.98,148.18L221.98,148.18Z" fill="none" stroke="#1f7fe0" stroke-width="0.6"/>
<path d="M224.45,145.39L225.95,148.19L222.95,148.19Z" fill="none" stroke="#1f7fe0" stroke-width="0.6"/>
<path d="M225.43,145.55L226.93,148.35L223.93,148.35Z" fill="none" stroke="#1f7fe0" stroke-width="0.6"/>
<path d="M226.40,143.88L227.90,146.68L224.90,146.68Z" fill="none" stroke="#1f7fe0" stroke-width="0.6"/>
<path d="M227.38,145.39L228.88,148.19L225.88,148.19Z" fill="none" stroke="#1f7fe0" stroke-width="0.6"/>
<path d="M228.35,144.95L229.85,147.75L226.85,147.75Z" fill="none" stroke="#1f7fe0" stroke-width="0.6"/>
<path d="M229.33,145.47L230.83,148.27L227.83,148.27Z" fill="none" stroke="#1f7fe0" stroke-width="0.6"/>
<path d="M230.30,143.94L231.80,146.74L228.80,146.74Z" fill="none" stroke="#1f7fe0" stroke-width="0.6"/>
<path d="M231.28,144.65L232.78,147.45L229.78,147.45Z" fill="none" stroke="#1f7fe0" stroke-width="0.6"/>
<path d="M232.25,170.60L233.75,173.40L230.75,173.40Z" fill="none" stroke="#1f7fe0" stroke-width="0.6"/>
<path d="M233.23,170.43L234.73,173.23L231.73,173.23Z" fill="none" stroke="#1f7fe0" stroke-width="0.6"/>
<path d="M234.20,169.79L235.70,172.59L232.70,172.59Z" fill="none" stroke="#1f7fe0" stroke-width="0.6"/>
<path d="M235.18,170.27L236.68,173.07L233.68,173.07Z" fill="none" stroke="#1f7fe0" stroke-width="0.6"/>
<path d="M236.15,170.16L237.65,172.96L234.65,172.96Z" fill="none" stroke="#1f7fe0" stroke-width="0.6"/>
<path d="M237.13,169.77L238.63,172.57L235.63,172.57Z" fill="none" stroke="#1f7fe0" stroke-width="0.6"/>
<path d="M238.10,169.74L239.60,172.54L236.60,172.54Z" fill="none" stroke="#1f7fe0" stroke-width="0.6"/>
<path d="M239.08,170.40L240.58,173.20L237.58,173.20Z" fill="none" stroke="#1f7fe0" stroke-width="0.6"/>
<path d="M240.05,170.33L241.55,173.13L238.55,173.13Z" fill="none" stroke="#1f7fe0" stroke-width="0.6"/>
<path d="M241.03,170.91L242.53,173.71L239.53,173.71Z" fill="none" stroke="#1f7fe0" stroke-width="0.6"/>
<path d="M242.00,170.53L243.50,173.33L240.50,173.33Z" fill="none" stroke="#1f7fe0" stroke-width="0.6"/>
<path d="M242.98,170.50L244.48,173.30L241.48,173.30Z" fill="none" stroke="#1f7fe0" stroke-width="0.6"/>
<path d="M243.95,170.32L245.45,173.12L242.45,173.12Z" fill="none" stroke="#1f7fe0" stroke-width="0.6"/>
<path d="M244.93,170.01L246.43,172.81L243.43,172.81Z" fill="none" stroke="#1f7fe0" stroke-width="0.6"/>
<path d="M245.90,169.64L247.40,172.44L244.40,172.44Z" fill="none" stroke="#1f7fe0" stroke-width="0.6"/>
<path d="M246.88,170.83L248.38,173.63L245.38,173.63Z" fill="none" stroke="#1f7fe0" stroke-width="0.6"/>
<path d="M247.85,169.67L249.35,172.47L246.35,172.47Z" fill="none" stroke="#1f7fe0" stroke-width="0.6"/>
<path d="M248.83,170.72L250.33,173.52L247.33,173.52Z" fill="none" stroke="#1f7fe0" stroke-width="0.6"/>
<path d="M249.80,170.04L251.30,172.84L248.30,172.84Z" fill="none" stroke="#1f7fe0" stroke-width="0.6"/>
<path d="M66.28,163.06L68.08,166.36L64.48,166.36Z" fill="#fff" stroke="#1f7fe0" stroke-width="0.7"/>
<path d="M78.47,149.32L80.27,152.62L76.67,152.62Z" fill="#fff" stroke="#1f7fe0" stroke-width="0.7"/>
<path d="M84.56,152.98L86.36,156.28L82.76,156.28Z" fill="#fff" stroke="#1f7fe0" stroke-width="0.7"/>
<path d="M102.84,157.56L104.64,160.86L101.04,160.86Z" fill="#fff" stroke="#1f7fe0" stroke-width="0.7"/>
<path d="M122.33,149.77L124.13,153.07L120.53,153.07Z" fill="#fff" stroke="#1f7fe0" stroke-width="0.7"/>
<path d="M139.39,151.15L141.19,154.45L137.59,154.45Z" fill="#fff" stroke="#1f7fe0" stroke-width="0.7"/>
<path d="M158.28,168.09L160.08,171.39L156.48,171.39Z" fill="#fff" stroke="#1f7fe0" stroke-width="0.7"/>
<path d="M175.95,155.73L177.75,159.03L174.15,159.03Z" fill="#fff" stroke="#1f7fe0" stroke-width="0.7"/>
<path d="M177.17,158.48L178.97,161.78L175.37,161.78Z" fill="#fff" stroke="#1f7fe0" stroke-width="0.7"/>
<path d="M212.51,153.90L214.31,157.20L210.71,157.20Z" fill="#fff" stroke="#1f7fe0" stroke-width="0.7"/>
<path d="M230.79,165.80L232.59,169.10L228.99,169.10Z" fill="#fff" stroke="#1f7fe0" stroke-width="0.7"/>
<line x1="48.0" y1="62.80" x2="51.0" y2="62.80" stroke="#111" stroke-width="1"/>
<line x1="48.0" y1="57.07" x2="49.8" y2="57.07" stroke="#111" stroke-width="1"/>
<text transform="translate(44.80,66.60) scale(1,1.12)" font-size="9.8" text-anchor="end" fill="#111" stroke="#111" stroke-width="0.22" >0</text>
<line x1="48.0" y1="51.35" x2="51.0" y2="51.35" stroke="#111" stroke-width="1"/>
<line x1="48.0" y1="45.62" x2="49.8" y2="45.62" stroke="#111" stroke-width="1"/>
<text transform="translate(44.80,55.15) scale(1,1.12)" font-size="9.8" text-anchor="end" fill="#111" stroke="#111" stroke-width="0.22" >25</text>
<line x1="48.0" y1="39.90" x2="51.0" y2="39.90" stroke="#111" stroke-width="1"/>
<line x1="48.0" y1="34.17" x2="49.8" y2="34.17" stroke="#111" stroke-width="1"/>
<text transform="translate(44.80,43.70) scale(1,1.12)" font-size="9.8" text-anchor="end" fill="#111" stroke="#111" stroke-width="0.22" >50</text>
<line x1="48.0" y1="28.45" x2="51.0" y2="28.45" stroke="#111" stroke-width="1"/>
<line x1="48.0" y1="22.72" x2="49.8" y2="22.72" stroke="#111" stroke-width="1"/>
<text transform="translate(44.80,32.25) scale(1,1.12)" font-size="9.8" text-anchor="end" fill="#111" stroke="#111" stroke-width="0.22" >75</text>
<line x1="48.0" y1="17.00" x2="51.0" y2="17.00" stroke="#111" stroke-width="1"/>
<text transform="translate(44.80,20.80) scale(1,1.12)" font-size="9.8" text-anchor="end" fill="#111" stroke="#111" stroke-width="0.22" >100</text>
<line x1="48.0" y1="118.00" x2="51.0" y2="118.00" stroke="#111" stroke-width="1"/>
<line x1="48.0" y1="112.28" x2="49.8" y2="112.28" stroke="#111" stroke-width="1"/>
<text transform="translate(44.80,121.80) scale(1,1.12)" font-size="9.8" text-anchor="end" fill="#111" stroke="#111" stroke-width="0.22" >0</text>
<line x1="48.0" y1="106.55" x2="51.0" y2="106.55" stroke="#111" stroke-width="1"/>
<line x1="48.0" y1="100.83" x2="49.8" y2="100.83" stroke="#111" stroke-width="1"/>
<text transform="translate(44.80,110.35) scale(1,1.12)" font-size="9.8" text-anchor="end" fill="#111" stroke="#111" stroke-width="0.22" >25</text>
<line x1="48.0" y1="95.10" x2="51.0" y2="95.10" stroke="#111" stroke-width="1"/>
<line x1="48.0" y1="89.38" x2="49.8" y2="89.38" stroke="#111" stroke-width="1"/>
<text transform="translate(44.80,98.90) scale(1,1.12)" font-size="9.8" text-anchor="end" fill="#111" stroke="#111" stroke-width="0.22" >50</text>
<line x1="48.0" y1="83.65" x2="51.0" y2="83.65" stroke="#111" stroke-width="1"/>
<line x1="48.0" y1="77.92" x2="49.8" y2="77.92" stroke="#111" stroke-width="1"/>
<text transform="translate(44.80,87.45) scale(1,1.12)" font-size="9.8" text-anchor="end" fill="#111" stroke="#111" stroke-width="0.22" >75</text>
<line x1="48.0" y1="72.20" x2="51.0" y2="72.20" stroke="#111" stroke-width="1"/>
<text transform="translate(44.80,76.00) scale(1,1.12)" font-size="9.8" text-anchor="end" fill="#111" stroke="#111" stroke-width="0.22" >100</text>
<line x1="48.0" y1="173.30" x2="51.0" y2="173.30" stroke="#111" stroke-width="1"/>
<line x1="48.0" y1="167.58" x2="49.8" y2="167.58" stroke="#111" stroke-width="1"/>
<text transform="translate(44.80,177.10) scale(1,1.12)" font-size="9.8" text-anchor="end" fill="#111" stroke="#111" stroke-width="0.22" >0</text>
<line x1="48.0" y1="161.85" x2="51.0" y2="161.85" stroke="#111" stroke-width="1"/>
<line x1="48.0" y1="156.12" x2="49.8" y2="156.12" stroke="#111" stroke-width="1"/>
<text transform="translate(44.80,165.65) scale(1,1.12)" font-size="9.8" text-anchor="end" fill="#111" stroke="#111" stroke-width="0.22" >25</text>
<line x1="48.0" y1="150.40" x2="51.0" y2="150.40" stroke="#111" stroke-width="1"/>
<line x1="48.0" y1="144.68" x2="49.8" y2="144.68" stroke="#111" stroke-width="1"/>
<text transform="translate(44.80,154.20) scale(1,1.12)" font-size="9.8" text-anchor="end" fill="#111" stroke="#111" stroke-width="0.22" >50</text>
<line x1="48.0" y1="138.95" x2="51.0" y2="138.95" stroke="#111" stroke-width="1"/>
<line x1="48.0" y1="133.23" x2="49.8" y2="133.23" stroke="#111" stroke-width="1"/>
<text transform="translate(44.80,142.75) scale(1,1.12)" font-size="9.8" text-anchor="end" fill="#111" stroke="#111" stroke-width="0.22" >75</text>
<line x1="48.0" y1="127.50" x2="51.0" y2="127.50" stroke="#111" stroke-width="1"/>
<text transform="translate(44.80,131.30) scale(1,1.12)" font-size="9.8" text-anchor="end" fill="#111" stroke="#111" stroke-width="0.22" >100</text>
<line x1="48.00" y1="173.3" x2="48.00" y2="170.3" stroke="#111" stroke-width="1"/>
<text transform="translate(48.00,184.80) scale(1,1.12)" font-size="9.8" text-anchor="middle" fill="#111" stroke="#111" stroke-width="0.22" >0</text>
<line x1="66.28" y1="173.3" x2="66.28" y2="171.5" stroke="#111" stroke-width="1"/>
<line x1="84.56" y1="173.3" x2="84.56" y2="170.3" stroke="#111" stroke-width="1"/>
<text transform="translate(84.56,184.80) scale(1,1.12)" font-size="9.8" text-anchor="middle" fill="#111" stroke="#111" stroke-width="0.22" >60</text>
<line x1="102.84" y1="173.3" x2="102.84" y2="171.5" stroke="#111" stroke-width="1"/>
<line x1="121.12" y1="173.3" x2="121.12" y2="170.3" stroke="#111" stroke-width="1"/>
<text transform="translate(121.12,184.80) scale(1,1.12)" font-size="9.8" text-anchor="middle" fill="#111" stroke="#111" stroke-width="0.22" >120</text>
<line x1="139.39" y1="173.3" x2="139.39" y2="171.5" stroke="#111" stroke-width="1"/>
<line x1="157.67" y1="173.3" x2="157.67" y2="170.3" stroke="#111" stroke-width="1"/>
<text transform="translate(157.67,184.80) scale(1,1.12)" font-size="9.8" text-anchor="middle" fill="#111" stroke="#111" stroke-width="0.22" >180</text>
<line x1="175.95" y1="173.3" x2="175.95" y2="171.5" stroke="#111" stroke-width="1"/>
<line x1="194.23" y1="173.3" x2="194.23" y2="170.3" stroke="#111" stroke-width="1"/>
<text transform="translate(194.23,184.80) scale(1,1.12)" font-size="9.8" text-anchor="middle" fill="#111" stroke="#111" stroke-width="0.22" >240</text>
<line x1="212.51" y1="173.3" x2="212.51" y2="171.5" stroke="#111" stroke-width="1"/>
<line x1="230.79" y1="173.3" x2="230.79" y2="170.3" stroke="#111" stroke-width="1"/>
<text transform="translate(230.79,184.80) scale(1,1.12)" font-size="9.8" text-anchor="middle" fill="#111" stroke="#111" stroke-width="0.22" >300</text>
<line x1="249.07" y1="173.3" x2="249.07" y2="171.5" stroke="#111" stroke-width="1"/>
<line x1="200.2" y1="15.1" x2="223" y2="15.1" stroke="#1a1a1a" stroke-width="1.6"/>
<circle cx="211.5" cy="15.1" r="1.6" fill="#fff" stroke="#1a1a1a" stroke-width="0.8"/>
<text x="226.00" y="18.60" font-size="9.9" text-anchor="start" fill="#111" stroke="#111" stroke-width="0.22" >0min</text>
<line x1="200.2" y1="69.8" x2="223" y2="69.8" stroke="#f4585a" stroke-width="1.6"/>
<circle cx="211.5" cy="69.8" r="1.6" fill="#fff" stroke="#f4585a" stroke-width="0.8"/>
<text x="226.00" y="73.30" font-size="9.9" text-anchor="start" fill="#111" stroke="#111" stroke-width="0.22" >1min</text>
<line x1="200.2" y1="125.0" x2="223" y2="125.0" stroke="#1f7fe0" stroke-width="1.6"/>
<circle cx="211.5" cy="125.0" r="1.6" fill="#fff" stroke="#1f7fe0" stroke-width="0.8"/>
<text x="226.00" y="128.50" font-size="9.9" text-anchor="start" fill="#111" stroke="#111" stroke-width="0.22" >5min</text>
<text x="3.20" y="21.60" font-size="12.8" text-anchor="start" fill="#111" stroke="#111" stroke-width="0.22" >(a)</text>
<text transform="translate(17.2,82.2) rotate(-90)" font-size="14" text-anchor="middle" fill="#111" stroke="#111" stroke-width="0.22">Current (pA)</text>
<text x="149.50" y="203.60" font-size="14" text-anchor="middle" fill="#111" stroke="#111" stroke-width="0.22" >Time (s)</text>
<polyline points="340.40,105.88 403.45,109.96 442.10,150.79 465.83,157.86 507.19,162.76 529.56,169.02 543.80,166.85" fill="none" stroke="#555555" stroke-width="1.5" stroke-linejoin="miter"/>
<polyline points="340.40,67.23 353.96,67.23 391.93,69.95 415.66,126.84 442.10,147.52 455.66,158.14 478.71,150.24 520.07,161.67 543.80,161.67" fill="none" stroke="#f23a3a" stroke-width="1.5" stroke-linejoin="miter"/>
<polyline points="340.40,38.38 383.79,35.93 415.66,155.14 455.66,155.14 478.71,151.60 543.80,160.59" fill="none" stroke="#1a7ee6" stroke-width="1.5" stroke-linejoin="miter"/>
<rect x="340.4" y="7.9" width="203.39999999999998" height="163.29999999999998" fill="none" stroke="#111" stroke-width="1.4"/>
<line x1="340.4" y1="171.20" x2="343.4" y2="171.20" stroke="#111" stroke-width="1"/>
<line x1="340.4" y1="150.79" x2="342.2" y2="150.79" stroke="#111" stroke-width="1"/>
<text transform="translate(337.20,175.00) scale(1,1.12)" font-size="9.8" text-anchor="end" fill="#111" stroke="#111" stroke-width="0.22" >0</text>
<line x1="340.4" y1="130.38" x2="343.4" y2="130.38" stroke="#111" stroke-width="1"/>
<line x1="340.4" y1="109.96" x2="342.2" y2="109.96" stroke="#111" stroke-width="1"/>
<text transform="translate(337.20,134.18) scale(1,1.12)" font-size="9.8" text-anchor="end" fill="#111" stroke="#111" stroke-width="0.22" >15</text>
<line x1="340.4" y1="89.55" x2="343.4" y2="89.55" stroke="#111" stroke-width="1"/>
<line x1="340.4" y1="69.14" x2="342.2" y2="69.14" stroke="#111" stroke-width="1"/>
<text transform="translate(337.20,93.35) scale(1,1.12)" font-size="9.8" text-anchor="end" fill="#111" stroke="#111" stroke-width="0.22" >30</text>
<line x1="340.4" y1="48.73" x2="343.4" y2="48.73" stroke="#111" stroke-width="1"/>
<line x1="340.4" y1="28.31" x2="342.2" y2="28.31" stroke="#111" stroke-width="1"/>
<text transform="translate(337.20,52.53) scale(1,1.12)" font-size="9.8" text-anchor="end" fill="#111" stroke="#111" stroke-width="0.22" >45</text>
<line x1="340.4" y1="7.90" x2="343.4" y2="7.90" stroke="#111" stroke-width="1"/>
<text transform="translate(337.20,11.70) scale(1,1.12)" font-size="9.8" text-anchor="end" fill="#111" stroke="#111" stroke-width="0.22" >60</text>
<line x1="340.40" y1="171.2" x2="340.40" y2="168.2" stroke="#111" stroke-width="1"/>
<text transform="translate(340.40,183.50) scale(1,1.12)" font-size="9.8" text-anchor="middle" fill="#111" stroke="#111" stroke-width="0.22" >57</text>
<line x1="374.30" y1="171.2" x2="374.30" y2="169.39999999999998" stroke="#111" stroke-width="1"/>
<line x1="408.20" y1="171.2" x2="408.20" y2="168.2" stroke="#111" stroke-width="1"/>
<text transform="translate(408.20,183.50) scale(1,1.12)" font-size="9.8" text-anchor="middle" fill="#111" stroke="#111" stroke-width="0.22" >58</text>
<line x1="442.10" y1="171.2" x2="442.10" y2="169.39999999999998" stroke="#111" stroke-width="1"/>
<line x1="476.00" y1="171.2" x2="476.00" y2="168.2" stroke="#111" stroke-width="1"/>
<text transform="translate(476.00,183.50) scale(1,1.12)" font-size="9.8" text-anchor="middle" fill="#111" stroke="#111" stroke-width="0.22" >59</text>
<line x1="509.90" y1="171.2" x2="509.90" y2="169.39999999999998" stroke="#111" stroke-width="1"/>
<line x1="543.80" y1="171.2" x2="543.80" y2="168.2" stroke="#111" stroke-width="1"/>
<text transform="translate(543.80,183.50) scale(1,1.12)" font-size="9.8" text-anchor="middle" fill="#111" stroke="#111" stroke-width="0.22" >60</text>
<line x1="489.1" y1="16.7" x2="512" y2="16.7" stroke="#555555" stroke-width="1.5"/>
<text x="514.80" y="20.20" font-size="9.8" text-anchor="start" fill="#111" stroke="#111" stroke-width="0.22" >0 min</text>
<line x1="489.1" y1="29.5" x2="512" y2="29.5" stroke="#f23a3a" stroke-width="1.5"/>
<text x="514.80" y="33.00" font-size="9.8" text-anchor="start" fill="#111" stroke="#111" stroke-width="0.22" >1 min</text>
<line x1="489.1" y1="41.7" x2="512" y2="41.7" stroke="#1a7ee6" stroke-width="1.5"/>
<text x="514.80" y="45.20" font-size="9.8" text-anchor="start" fill="#111" stroke="#111" stroke-width="0.22" >5 min</text>
<text x="301.80" y="21.40" font-size="12.8" text-anchor="start" fill="#111" stroke="#111" stroke-width="0.22" >(b)</text>
<text transform="translate(315.8,85.5) rotate(-90)" font-size="14" text-anchor="middle" fill="#111" stroke="#111" stroke-width="0.22">Current (pA)</text>
<text x="442.30" y="202.70" font-size="14" text-anchor="middle" fill="#111" stroke="#111" stroke-width="0.22" >Time (s)</text>
<line x1="64.04" y1="235.2" x2="64.04" y2="267.9" stroke="#ff8c8c" stroke-width="1"/>
<line x1="62.54" y1="235.2" x2="65.54" y2="235.2" stroke="#ff8c8c" stroke-width="1"/>
<line x1="62.54" y1="267.9" x2="65.54" y2="267.9" stroke="#ff8c8c" stroke-width="1"/>
<line x1="97.73" y1="270.3" x2="97.73" y2="302.5" stroke="#ff8c8c" stroke-width="1"/>
<line x1="96.23" y1="270.3" x2="99.23" y2="270.3" stroke="#ff8c8c" stroke-width="1"/>
<line x1="96.23" y1="302.5" x2="99.23" y2="302.5" stroke="#ff8c8c" stroke-width="1"/>
<line x1="232.46" y1="309.3" x2="232.46" y2="344.1" stroke="#ff8c8c" stroke-width="1"/>
<line x1="230.96" y1="309.3" x2="233.96" y2="309.3" stroke="#ff8c8c" stroke-width="1"/>
<line x1="230.96" y1="344.1" x2="233.96" y2="344.1" stroke="#ff8c8c" stroke-width="1"/>
<polyline points="64.04,251.10 97.73,286.30 232.46,326.30" fill="none" stroke="#ff2020" stroke-width="1.6" stroke-dasharray="6 4.9"/>
<rect x="61.54" y="248.60" width="5" height="5" fill="#ff1010"/>
<rect x="95.23" y="283.80" width="5" height="5" fill="#ff1010"/>
<rect x="229.96" y="323.80" width="5" height="5" fill="#ff1010"/>
<polyline points="64.04,349.50 97.73,360.00 232.46,366.50" fill="none" stroke="#444" stroke-width="1.4" stroke-dasharray="6 5.8" stroke-dashoffset="-2"/>
<path d="M64.04,346.50L67.14,352.00L60.94,352.00Z" fill="#111"/>
<path d="M97.73,357.00L100.83,362.50L94.63,362.50Z" fill="#111"/>
<path d="M232.46,363.50L235.56,369.00L229.36,369.00Z" fill="#111"/>
<line x1="47.2" y1="218.0" x2="249.3" y2="218.0" stroke="#111" stroke-width="1.4"/>
<line x1="47.2" y1="218.0" x2="47.2" y2="380.8" stroke="#111" stroke-width="1.4"/>
<line x1="47.2" y1="380.8" x2="249.3" y2="380.8" stroke="#111" stroke-width="1.4"/>
<line x1="249.3" y1="218.0" x2="249.3" y2="380.8" stroke="#ff1a1a" stroke-width="1.4"/>
<line x1="47.2" y1="360.45" x2="50.2" y2="360.45" stroke="#111" stroke-width="1"/>
<text transform="translate(42.60,364.05) scale(1,1.12)" font-size="9.6" text-anchor="end" fill="#111" stroke="#111" stroke-width="0.22" >0.01</text>
<line x1="47.2" y1="340.10" x2="49.0" y2="340.10" stroke="#111" stroke-width="1"/>
<line x1="47.2" y1="319.75" x2="50.2" y2="319.75" stroke="#111" stroke-width="1"/>
<text transform="translate(42.60,323.35) scale(1,1.12)" font-size="9.6" text-anchor="end" fill="#111" stroke="#111" stroke-width="0.22" >0.02</text>
<line x1="47.2" y1="299.40" x2="49.0" y2="299.40" stroke="#111" stroke-width="1"/>
<line x1="47.2" y1="279.05" x2="50.2" y2="279.05" stroke="#111" stroke-width="1"/>
<text transform="translate(42.60,282.65) scale(1,1.12)" font-size="9.6" text-anchor="end" fill="#111" stroke="#111" stroke-width="0.22" >0.03</text>
<line x1="47.2" y1="258.70" x2="49.0" y2="258.70" stroke="#111" stroke-width="1"/>
<line x1="47.2" y1="238.35" x2="50.2" y2="238.35" stroke="#111" stroke-width="1"/>
<text transform="translate(42.60,241.95) scale(1,1.12)" font-size="9.6" text-anchor="end" fill="#111" stroke="#111" stroke-width="0.22" >0.04</text>
<text transform="translate(252.80,384.10) scale(1,1.12)" font-size="9.8" text-anchor="start" fill="#ff1a1a" stroke="#ff1a1a" stroke-width="0.22" >2.0</text>
<line x1="249.3" y1="360.45" x2="247.5" y2="360.45" stroke="#ff1a1a" stroke-width="1"/>
<line x1="249.3" y1="340.10" x2="246.3" y2="340.10" stroke="#ff1a1a" stroke-width="1"/>
<text transform="translate(252.80,343.40) scale(1,1.12)" font-size="9.8" text-anchor="start" fill="#ff1a1a" stroke="#ff1a1a" stroke-width="0.22" >2.5</text>
<line x1="249.3" y1="319.75" x2="247.5" y2="319.75" stroke="#ff1a1a" stroke-width="1"/>
<line x1="249.3" y1="299.40" x2="246.3" y2="299.40" stroke="#ff1a1a" stroke-width="1"/>
<text transform="translate(252.80,302.70) scale(1,1.12)" font-size="9.8" text-anchor="start" fill="#ff1a1a" stroke="#ff1a1a" stroke-width="0.22" >3.0</text>
<line x1="249.3" y1="279.05" x2="247.5" y2="279.05" stroke="#ff1a1a" stroke-width="1"/>
<line x1="249.3" y1="258.70" x2="246.3" y2="258.70" stroke="#ff1a1a" stroke-width="1"/>
<text transform="translate(252.80,262.00) scale(1,1.12)" font-size="9.8" text-anchor="start" fill="#ff1a1a" stroke="#ff1a1a" stroke-width="0.22" >3.5</text>
<line x1="249.3" y1="238.35" x2="247.5" y2="238.35" stroke="#ff1a1a" stroke-width="1"/>
<text transform="translate(252.80,221.30) scale(1,1.12)" font-size="9.8" text-anchor="start" fill="#ff1a1a" stroke="#ff1a1a" stroke-width="0.22" >4.0</text>
<line x1="64.04" y1="380.8" x2="64.04" y2="377.8" stroke="#111" stroke-width="1"/>
<text transform="translate(64.04,393.00) scale(1,1.12)" font-size="9.5" text-anchor="middle" fill="#111" stroke="#111" stroke-width="0.22" >0</text>
<line x1="97.73" y1="380.8" x2="97.73" y2="377.8" stroke="#111" stroke-width="1"/>
<text transform="translate(97.73,393.00) scale(1,1.12)" font-size="9.5" text-anchor="middle" fill="#111" stroke="#111" stroke-width="0.22" >1</text>
<line x1="131.41" y1="380.8" x2="131.41" y2="377.8" stroke="#111" stroke-width="1"/>
<text transform="translate(131.41,393.00) scale(1,1.12)" font-size="9.5" text-anchor="middle" fill="#111" stroke="#111" stroke-width="0.22" >2</text>
<line x1="165.09" y1="380.8" x2="165.09" y2="377.8" stroke="#111" stroke-width="1"/>
<text transform="translate(165.09,393.00) scale(1,1.12)" font-size="9.5" text-anchor="middle" fill="#111" stroke="#111" stroke-width="0.22" >3</text>
<line x1="198.78" y1="380.8" x2="198.78" y2="377.8" stroke="#111" stroke-width="1"/>
<text transform="translate(198.78,393.00) scale(1,1.12)" font-size="9.5" text-anchor="middle" fill="#111" stroke="#111" stroke-width="0.22" >4</text>
<line x1="232.46" y1="380.8" x2="232.46" y2="377.8" stroke="#111" stroke-width="1"/>
<text transform="translate(232.46,393.00) scale(1,1.12)" font-size="9.5" text-anchor="middle" fill="#111" stroke="#111" stroke-width="0.22" >5</text>
<path d="M203.8,228H209M219.5,228H224.2" stroke="#444" stroke-width="1.4"/>
<path d="M215.5,225.2L218.4,230.2L212.6,230.2Z" fill="#111"/>
<path d="M203.8,244H209M219.5,244H224.2" stroke="#ff2020" stroke-width="1.6"/>
<rect x="213" y="241.5" width="5" height="5" fill="#ff1010"/>
<text x="229.30" y="231.60" font-size="9.5" text-anchor="start" fill="#111" stroke="#111" stroke-width="0.22" >τ<tspan font-size="6.3" dy="2.4">c1</tspan></text>
<text x="229.30" y="247.60" font-size="9.5" text-anchor="start" fill="#111" stroke="#111" stroke-width="0.22" >τ<tspan font-size="6.3" dy="2.4">c2</tspan></text>
<text x="3.30" y="230.20" font-size="12.5" text-anchor="start" fill="#111" stroke="#111" stroke-width="0.22" >(c)</text>
<text transform="translate(14.4,334.2) rotate(-90)" font-size="14" text-anchor="start" fill="#111" stroke="#111" stroke-width="0.22">τ<tspan font-size="8.5" dy="3">c1</tspan><tspan dy="-3" dx="3.5">Time (S)</tspan></text>
<text transform="translate(282.6,334.2) rotate(-90)" font-size="14" text-anchor="start" fill="#ff1a1a" stroke="#ff1a1a" stroke-width="0.22">τ<tspan font-size="8.5" dy="3">c2</tspan><tspan dy="-3" dx="3.5">Time (S)</tspan></text>
<text x="148.10" y="408.60" font-size="13.8" text-anchor="middle" fill="#111" stroke="#111" stroke-width="0.22" >PN treatment time (min)</text>
<path d="M210.1,326.3 C204,326.6 198.6,321 198.6,313 C198.6,302 206,292.4 217.8,292.6" fill="none" stroke="#ff1a1a" stroke-width="1.1"/>
<path d="M222.6,292.9 L217.2,290.6 L217.4,295.1 Z" fill="#ff1a1a" stroke="#ff1a1a" stroke-width="0.4"/>
<path d="M68.3,358.9 C72.5,358.9 75.6,355 75.6,350.2 C75.6,341 68.5,334.8 59.5,335.2" fill="none" stroke="#222" stroke-width="1.1"/>
<path d="M55.4,335.4 L60.3,333.3 L60.5,337.4 Z" fill="#222" stroke="#222" stroke-width="0.4"/>
<rect x="411.2" y="356.8" width="126.4" height="13.2" fill="#f5b7c2"/>
<rect x="411.2" y="343.2" width="126.4" height="13.6" fill="#fdf36a"/>
<rect x="411.2" y="326.9" width="126.4" height="16.3" fill="#6ccdf5"/>
<rect x="411.2" y="312.8" width="42.6" height="14.1" fill="#a6aecb"/>
<rect x="494.5" y="312.8" width="43.1" height="14.1" fill="#a6aecb"/>
<text x="432.50" y="318.90" font-size="6.8" text-anchor="middle" fill="#f4f5fa" stroke="#f4f5fa" stroke-width="0.1" >TiN(100 nm)</text>
<text x="432.50" y="326.00" font-size="6.8" text-anchor="middle" fill="#f4f5fa" stroke="#f4f5fa" stroke-width="0.1" >/Ti(5 nm)</text>
<text x="516.00" y="318.90" font-size="6.8" text-anchor="middle" fill="#f4f5fa" stroke="#f4f5fa" stroke-width="0.1" >TiN(100 nm)</text>
<text x="516.00" y="326.00" font-size="6.8" text-anchor="middle" fill="#f4f5fa" stroke="#f4f5fa" stroke-width="0.1" >/Ti(5 nm)</text>
<text x="474.40" y="338.30" font-size="6.8" text-anchor="middle" fill="#111" stroke="#111" stroke-width="0" font-weight="bold"><tspan font-style="italic">β</tspan>Ga<tspan font-size="4.5" dy="1.5">2</tspan><tspan dy="-1.5">O</tspan><tspan font-size="4.5" dy="1.5">3</tspan><tspan dy="-1.5"> (100 nm)</tspan></text>
<text x="474.40" y="353.00" font-size="6.8" text-anchor="middle" fill="#111" stroke="#111" stroke-width="0" font-weight="bold">SiO<tspan font-size="4.5" dy="1.5">2</tspan><tspan dy="-1.5"> (300 nm)</tspan></text>
<text x="474.40" y="366.60" font-size="6.8" text-anchor="middle" fill="#111" stroke="#111" stroke-width="0" font-weight="bold">Si substrate</text>
<polyline points="357.42,352.49 391.25,312.05 526.58,234.41" fill="none" stroke="#111" stroke-width="1.6" stroke-dasharray="6 4" stroke-dashoffset="-3"/>
<rect x="354.52" y="349.59" width="5.8" height="5.8" fill="#111"/>
<rect x="388.35" y="309.15" width="5.8" height="5.8" fill="#111"/>
<rect x="523.68" y="231.51" width="5.8" height="5.8" fill="#111"/>
<rect x="340.5" y="218.1" width="203.0" height="163.1" fill="none" stroke="#111" stroke-width="1.4"/>
<text transform="translate(337.00,384.90) scale(1,1.12)" font-size="9.5" text-anchor="end" fill="#111" stroke="#111" stroke-width="0.22" >25</text>
<line x1="340.5" y1="364.89" x2="342.3" y2="364.89" stroke="#111" stroke-width="1"/>
<line x1="340.5" y1="348.58" x2="343.5" y2="348.58" stroke="#111" stroke-width="1"/>
<text transform="translate(337.00,352.28) scale(1,1.12)" font-size="9.5" text-anchor="end" fill="#111" stroke="#111" stroke-width="0.22" >30</text>
<line x1="340.5" y1="332.27" x2="342.3" y2="332.27" stroke="#111" stroke-width="1"/>
<line x1="340.5" y1="315.96" x2="343.5" y2="315.96" stroke="#111" stroke-width="1"/>
<text transform="translate(337.00,319.66) scale(1,1.12)" font-size="9.5" text-anchor="end" fill="#111" stroke="#111" stroke-width="0.22" >35</text>
<line x1="340.5" y1="299.65" x2="342.3" y2="299.65" stroke="#111" stroke-width="1"/>
<line x1="340.5" y1="283.34" x2="343.5" y2="283.34" stroke="#111" stroke-width="1"/>
<text transform="translate(337.00,287.04) scale(1,1.12)" font-size="9.5" text-anchor="end" fill="#111" stroke="#111" stroke-width="0.22" >40</text>
<line x1="340.5" y1="267.03" x2="342.3" y2="267.03" stroke="#111" stroke-width="1"/>
<line x1="340.5" y1="250.72" x2="343.5" y2="250.72" stroke="#111" stroke-width="1"/>
<text transform="translate(337.00,254.42) scale(1,1.12)" font-size="9.5" text-anchor="end" fill="#111" stroke="#111" stroke-width="0.22" >45</text>
<line x1="340.5" y1="234.41" x2="342.3" y2="234.41" stroke="#111" stroke-width="1"/>
<text transform="translate(337.00,221.80) scale(1,1.12)" font-size="9.5" text-anchor="end" fill="#111" stroke="#111" stroke-width="0.22" >50</text>
<line x1="357.42" y1="381.2" x2="357.42" y2="378.2" stroke="#111" stroke-width="1"/>
<text transform="translate(357.42,393.20) scale(1,1.12)" font-size="9.5" text-anchor="middle" fill="#111" stroke="#111" stroke-width="0.22" >0</text>
<line x1="374.33" y1="381.2" x2="374.33" y2="379.4" stroke="#111" stroke-width="1"/>
<line x1="391.25" y1="381.2" x2="391.25" y2="378.2" stroke="#111" stroke-width="1"/>
<text transform="translate(391.25,393.20) scale(1,1.12)" font-size="9.5" text-anchor="middle" fill="#111" stroke="#111" stroke-width="0.22" >1</text>
<line x1="408.17" y1="381.2" x2="408.17" y2="379.4" stroke="#111" stroke-width="1"/>
<line x1="425.08" y1="381.2" x2="425.08" y2="378.2" stroke="#111" stroke-width="1"/>
<text transform="translate(425.08,393.20) scale(1,1.12)" font-size="9.5" text-anchor="middle" fill="#111" stroke="#111" stroke-width="0.22" >2</text>
<line x1="442.00" y1="381.2" x2="442.00" y2="379.4" stroke="#111" stroke-width="1"/>
<line x1="458.92" y1="381.2" x2="458.92" y2="378.2" stroke="#111" stroke-width="1"/>
<text transform="translate(458.92,393.20) scale(1,1.12)" font-size="9.5" text-anchor="middle" fill="#111" stroke="#111" stroke-width="0.22" >3</text>
<line x1="475.83" y1="381.2" x2="475.83" y2="379.4" stroke="#111" stroke-width="1"/>
<line x1="492.75" y1="381.2" x2="492.75" y2="378.2" stroke="#111" stroke-width="1"/>
<text transform="translate(492.75,393.20) scale(1,1.12)" font-size="9.5" text-anchor="middle" fill="#111" stroke="#111" stroke-width="0.22" >4</text>
<line x1="509.67" y1="381.2" x2="509.67" y2="379.4" stroke="#111" stroke-width="1"/>
<line x1="526.58" y1="381.2" x2="526.58" y2="378.2" stroke="#111" stroke-width="1"/>
<text transform="translate(526.58,393.20) scale(1,1.12)" font-size="9.5" text-anchor="middle" fill="#111" stroke="#111" stroke-width="0.22" >5</text>
<text x="301.60" y="230.30" font-size="12.8" text-anchor="start" fill="#111" stroke="#111" stroke-width="0.22" >(d)</text>
<text transform="translate(315.7,299.4) rotate(-90)" font-size="13.5" text-anchor="middle" fill="#111" stroke="#111" stroke-width="0.22">PDCR</text>
<text x="442.00" y="408.50" font-size="13.8" text-anchor="middle" fill="#111" stroke="#111" stroke-width="0.22" >PN treatment time (min)</text>
</svg></body></html>
